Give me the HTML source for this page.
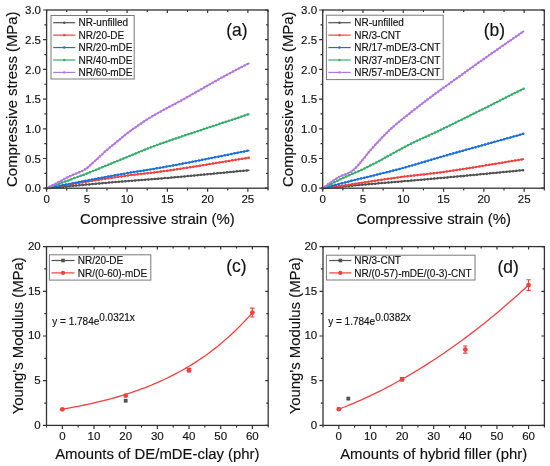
<!DOCTYPE html><html><head><meta charset="utf-8"><style>html,body{margin:0;padding:0;background:#fff;}svg{display:block;will-change:transform;}text{font-family:"Liberation Sans",sans-serif;fill:#111;stroke:#111;stroke-width:0.15px;}</style></head><body>
<svg width="550" height="466" viewBox="0 0 550 466">
<rect width="550" height="466" fill="#fff"/>
<path d="M46.6 188.2 L47.4 188.1 L48.2 188.1 L49.0 188.0 L49.8 187.9 L50.6 187.8 L51.4 187.8 L52.2 187.7 L53.0 187.6 L53.8 187.6 L54.7 187.5 L55.5 187.4 L56.3 187.3 L57.1 187.3 L57.9 187.2 L58.7 187.1 L59.5 187.0 L60.3 187.0 L61.1 186.9 L61.9 186.8 L62.7 186.8 L63.5 186.7 L64.3 186.6 L65.1 186.5 L65.9 186.5 L66.7 186.4 L67.5 186.3 L68.3 186.2 L69.1 186.2 L69.9 186.1 L70.8 186.0 L71.6 186.0 L72.4 185.9 L73.2 185.8 L74.0 185.7 L74.8 185.7 L75.6 185.6 L76.4 185.5 L77.2 185.4 L78.0 185.4 L78.8 185.3 L79.6 185.2 L80.4 185.2 L81.2 185.1 L82.0 185.0 L82.8 184.9 L83.6 184.9 L84.4 184.8 L85.2 184.7 L86.0 184.6 L86.9 184.6 L87.7 184.5 L88.5 184.4 L89.3 184.4 L90.1 184.3 L90.9 184.2 L91.7 184.1 L92.5 184.1 L93.3 184.0 L94.1 183.9 L94.9 183.9 L95.7 183.8 L96.5 183.7 L97.3 183.6 L98.1 183.6 L98.9 183.5 L99.7 183.4 L100.5 183.4 L101.3 183.3 L102.2 183.2 L103.0 183.1 L103.8 183.1 L104.6 183.0 L105.4 182.9 L106.2 182.9 L107.0 182.8 L107.8 182.7 L108.6 182.6 L109.4 182.6 L110.2 182.5 L111.0 182.4 L111.8 182.4 L112.6 182.3 L113.4 182.2 L114.2 182.2 L115.0 182.1 L115.8 182.0 L116.6 182.0 L117.4 181.9 L118.3 181.8 L119.1 181.8 L119.9 181.7 L120.7 181.6 L121.5 181.6 L122.3 181.5 L123.1 181.4 L123.9 181.4 L124.7 181.3 L125.5 181.2 L126.3 181.2 L127.1 181.1 L127.9 181.0 L128.7 181.0 L129.5 180.9 L130.3 180.8 L131.1 180.8 L131.9 180.7 L132.7 180.7 L133.5 180.6 L134.4 180.5 L135.2 180.5 L136.0 180.4 L136.8 180.3 L137.6 180.3 L138.4 180.2 L139.2 180.2 L140.0 180.1 L140.8 180.0 L141.6 180.0 L142.4 179.9 L143.2 179.9 L144.0 179.8 L144.8 179.7 L145.6 179.7 L146.4 179.6 L147.2 179.6 L148.0 179.5 L148.8 179.4 L149.7 179.4 L150.5 179.3 L151.3 179.3 L152.1 179.2 L152.9 179.1 L153.7 179.1 L154.5 179.0 L155.3 178.9 L156.1 178.9 L156.9 178.8 L157.7 178.8 L158.5 178.7 L159.3 178.6 L160.1 178.6 L160.9 178.5 L161.7 178.4 L162.5 178.4 L163.3 178.3 L164.1 178.2 L164.9 178.1 L165.8 178.1 L166.6 178.0 L167.4 177.9 L168.2 177.9 L169.0 177.8 L169.8 177.7 L170.6 177.7 L171.4 177.6 L172.2 177.5 L173.0 177.4 L173.8 177.4 L174.6 177.3 L175.4 177.2 L176.2 177.2 L177.0 177.1 L177.8 177.0 L178.6 176.9 L179.4 176.9 L180.2 176.8 L181.1 176.7 L181.9 176.7 L182.7 176.6 L183.5 176.5 L184.3 176.4 L185.1 176.4 L185.9 176.3 L186.7 176.2 L187.5 176.1 L188.3 176.1 L189.1 176.0 L189.9 175.9 L190.7 175.8 L191.5 175.8 L192.3 175.7 L193.1 175.6 L193.9 175.5 L194.7 175.5 L195.5 175.4 L196.3 175.3 L197.2 175.2 L198.0 175.1 L198.8 175.1 L199.6 175.0 L200.4 174.9 L201.2 174.8 L202.0 174.8 L202.8 174.7 L203.6 174.6 L204.4 174.5 L205.2 174.5 L206.0 174.4 L206.8 174.3 L207.6 174.2 L208.4 174.1 L209.2 174.1 L210.0 174.0 L210.8 173.9 L211.6 173.8 L212.4 173.8 L213.3 173.7 L214.1 173.6 L214.9 173.5 L215.7 173.4 L216.5 173.4 L217.3 173.3 L218.1 173.2 L218.9 173.1 L219.7 173.1 L220.5 173.0 L221.3 172.9 L222.1 172.8 L222.9 172.7 L223.7 172.7 L224.5 172.6 L225.3 172.5 L226.1 172.4 L226.9 172.4 L227.7 172.3 L228.6 172.2 L229.4 172.1 L230.2 172.0 L231.0 172.0 L231.8 171.9 L232.6 171.8 L233.4 171.7 L234.2 171.7 L235.0 171.6 L235.8 171.5 L236.6 171.4 L237.4 171.3 L238.2 171.3 L239.0 171.2 L239.8 171.1 L240.6 171.0 L241.4 171.0 L242.2 170.9 L243.0 170.8 L243.8 170.7 L244.7 170.7 L245.5 170.6 L246.3 170.5 L247.1 170.4 L247.9 170.4 L248.7 170.3 L249.5 170.2" fill="none" stroke="#515151" stroke-width="1.5" stroke-linejoin="round"/>
<path d="M46.6 188.2 L47.4 188.1 L48.2 188.1 L49.0 188.0 L49.8 187.9 L50.6 187.8 L51.4 187.8 L52.2 187.7 L53.0 187.6 L53.8 187.6 L54.7 187.5 L55.5 187.4 L56.3 187.3 L57.1 187.3 L57.9 187.2 L58.7 187.1 L59.5 187.0 L60.3 187.0 L61.1 186.9 L61.9 186.8 L62.7 186.8 L63.5 186.7 L64.3 186.6 L65.1 186.5 L65.9 186.5 L66.7 186.4 L67.5 186.3 L68.3 186.2 L69.1 186.2 L69.9 186.1 L70.8 186.0 L71.6 186.0 L72.4 185.9 L73.2 185.8 L74.0 185.7 L74.8 185.7 L75.6 185.6 L76.4 185.5 L77.2 185.4 L78.0 185.4 L78.8 185.3 L79.6 185.2 L80.4 185.2 L81.2 185.1 L82.0 185.0 L82.8 184.9 L83.6 184.9 L84.4 184.8 L85.2 184.7 L86.0 184.6 L86.9 184.6 L87.7 184.5 L88.5 184.4 L89.3 184.4 L90.1 184.3 L90.9 184.2 L91.7 184.1 L92.5 184.1 L93.3 184.0 L94.1 183.9 L94.9 183.9 L95.7 183.8 L96.5 183.7 L97.3 183.6 L98.1 183.6 L98.9 183.5 L99.7 183.4 L100.5 183.4 L101.3 183.3 L102.2 183.2 L103.0 183.1 L103.8 183.1 L104.6 183.0 L105.4 182.9 L106.2 182.9 L107.0 182.8 L107.8 182.7 L108.6 182.6 L109.4 182.6 L110.2 182.5 L111.0 182.4 L111.8 182.4 L112.6 182.3 L113.4 182.2 L114.2 182.2 L115.0 182.1 L115.8 182.0 L116.6 182.0 L117.4 181.9 L118.3 181.8 L119.1 181.8 L119.9 181.7 L120.7 181.6 L121.5 181.6 L122.3 181.5 L123.1 181.4 L123.9 181.4 L124.7 181.3 L125.5 181.2 L126.3 181.2 L127.1 181.1 L127.9 181.0 L128.7 181.0 L129.5 180.9 L130.3 180.8 L131.1 180.8 L131.9 180.7 L132.7 180.7 L133.5 180.6 L134.4 180.5 L135.2 180.5 L136.0 180.4 L136.8 180.3 L137.6 180.3 L138.4 180.2 L139.2 180.2 L140.0 180.1 L140.8 180.0 L141.6 180.0 L142.4 179.9 L143.2 179.9 L144.0 179.8 L144.8 179.7 L145.6 179.7 L146.4 179.6 L147.2 179.6 L148.0 179.5 L148.8 179.4 L149.7 179.4 L150.5 179.3 L151.3 179.3 L152.1 179.2 L152.9 179.1 L153.7 179.1 L154.5 179.0 L155.3 178.9 L156.1 178.9 L156.9 178.8 L157.7 178.8 L158.5 178.7 L159.3 178.6 L160.1 178.6 L160.9 178.5 L161.7 178.4 L162.5 178.4 L163.3 178.3 L164.1 178.2 L164.9 178.1 L165.8 178.1 L166.6 178.0 L167.4 177.9 L168.2 177.9 L169.0 177.8 L169.8 177.7 L170.6 177.7 L171.4 177.6 L172.2 177.5 L173.0 177.4 L173.8 177.4 L174.6 177.3 L175.4 177.2 L176.2 177.2 L177.0 177.1 L177.8 177.0 L178.6 176.9 L179.4 176.9 L180.2 176.8 L181.1 176.7 L181.9 176.7 L182.7 176.6 L183.5 176.5 L184.3 176.4 L185.1 176.4 L185.9 176.3 L186.7 176.2 L187.5 176.1 L188.3 176.1 L189.1 176.0 L189.9 175.9 L190.7 175.8 L191.5 175.8 L192.3 175.7 L193.1 175.6 L193.9 175.5 L194.7 175.5 L195.5 175.4 L196.3 175.3 L197.2 175.2 L198.0 175.1 L198.8 175.1 L199.6 175.0 L200.4 174.9 L201.2 174.8 L202.0 174.8 L202.8 174.7 L203.6 174.6 L204.4 174.5 L205.2 174.5 L206.0 174.4 L206.8 174.3 L207.6 174.2 L208.4 174.1 L209.2 174.1 L210.0 174.0 L210.8 173.9 L211.6 173.8 L212.4 173.8 L213.3 173.7 L214.1 173.6 L214.9 173.5 L215.7 173.4 L216.5 173.4 L217.3 173.3 L218.1 173.2 L218.9 173.1 L219.7 173.1 L220.5 173.0 L221.3 172.9 L222.1 172.8 L222.9 172.7 L223.7 172.7 L224.5 172.6 L225.3 172.5 L226.1 172.4 L226.9 172.4 L227.7 172.3 L228.6 172.2 L229.4 172.1 L230.2 172.0 L231.0 172.0 L231.8 171.9 L232.6 171.8 L233.4 171.7 L234.2 171.7 L235.0 171.6 L235.8 171.5 L236.6 171.4 L237.4 171.3 L238.2 171.3 L239.0 171.2 L239.8 171.1 L240.6 171.0 L241.4 171.0 L242.2 170.9 L243.0 170.8 L243.8 170.7 L244.7 170.7 L245.5 170.6 L246.3 170.5 L247.1 170.4 L247.9 170.4 L248.7 170.3 L249.5 170.2" fill="none" stroke="#515151" stroke-width="2.5" stroke-linecap="round" stroke-dasharray="0 3.3"/>
<path d="M46.6 188.2 L47.4 188.1 L48.2 187.9 L49.0 187.8 L49.8 187.7 L50.6 187.6 L51.4 187.4 L52.2 187.3 L53.0 187.2 L53.8 187.1 L54.7 186.9 L55.5 186.8 L56.3 186.7 L57.1 186.5 L57.9 186.4 L58.7 186.3 L59.5 186.1 L60.3 186.0 L61.1 185.9 L61.9 185.8 L62.7 185.6 L63.5 185.5 L64.3 185.4 L65.1 185.2 L65.9 185.1 L66.7 185.0 L67.5 184.8 L68.3 184.7 L69.1 184.6 L69.9 184.4 L70.8 184.3 L71.6 184.2 L72.4 184.0 L73.2 183.9 L74.0 183.8 L74.8 183.6 L75.6 183.5 L76.4 183.4 L77.2 183.2 L78.0 183.1 L78.8 183.0 L79.6 182.9 L80.4 182.7 L81.2 182.6 L82.0 182.5 L82.8 182.3 L83.6 182.2 L84.4 182.1 L85.2 181.9 L86.0 181.8 L86.9 181.7 L87.7 181.5 L88.5 181.4 L89.3 181.3 L90.1 181.2 L90.9 181.0 L91.7 180.9 L92.5 180.8 L93.3 180.6 L94.1 180.5 L94.9 180.4 L95.7 180.3 L96.5 180.1 L97.3 180.0 L98.1 179.9 L98.9 179.7 L99.7 179.6 L100.5 179.5 L101.3 179.4 L102.2 179.2 L103.0 179.1 L103.8 179.0 L104.6 178.9 L105.4 178.7 L106.2 178.6 L107.0 178.5 L107.8 178.4 L108.6 178.3 L109.4 178.1 L110.2 178.0 L111.0 177.9 L111.8 177.8 L112.6 177.7 L113.4 177.5 L114.2 177.4 L115.0 177.3 L115.8 177.2 L116.6 177.1 L117.4 177.0 L118.3 176.8 L119.1 176.7 L119.9 176.6 L120.7 176.5 L121.5 176.4 L122.3 176.3 L123.1 176.2 L123.9 176.1 L124.7 175.9 L125.5 175.8 L126.3 175.7 L127.1 175.6 L127.9 175.5 L128.7 175.4 L129.5 175.3 L130.3 175.2 L131.1 175.1 L131.9 175.0 L132.7 174.9 L133.5 174.8 L134.4 174.7 L135.2 174.6 L136.0 174.5 L136.8 174.4 L137.6 174.3 L138.4 174.3 L139.2 174.2 L140.0 174.1 L140.8 174.0 L141.6 173.9 L142.4 173.8 L143.2 173.7 L144.0 173.6 L144.8 173.5 L145.6 173.4 L146.4 173.3 L147.2 173.2 L148.0 173.1 L148.8 173.1 L149.7 173.0 L150.5 172.9 L151.3 172.8 L152.1 172.7 L152.9 172.6 L153.7 172.5 L154.5 172.4 L155.3 172.3 L156.1 172.2 L156.9 172.1 L157.7 172.0 L158.5 171.9 L159.3 171.8 L160.1 171.7 L160.9 171.5 L161.7 171.4 L162.5 171.3 L163.3 171.2 L164.1 171.1 L164.9 171.0 L165.8 170.9 L166.6 170.8 L167.4 170.7 L168.2 170.5 L169.0 170.4 L169.8 170.3 L170.6 170.2 L171.4 170.1 L172.2 170.0 L173.0 169.8 L173.8 169.7 L174.6 169.6 L175.4 169.5 L176.2 169.4 L177.0 169.3 L177.8 169.1 L178.6 169.0 L179.4 168.9 L180.2 168.8 L181.1 168.6 L181.9 168.5 L182.7 168.4 L183.5 168.3 L184.3 168.2 L185.1 168.0 L185.9 167.9 L186.7 167.8 L187.5 167.7 L188.3 167.5 L189.1 167.4 L189.9 167.3 L190.7 167.2 L191.5 167.0 L192.3 166.9 L193.1 166.8 L193.9 166.6 L194.7 166.5 L195.5 166.4 L196.3 166.3 L197.2 166.1 L198.0 166.0 L198.8 165.9 L199.6 165.7 L200.4 165.6 L201.2 165.5 L202.0 165.3 L202.8 165.2 L203.6 165.1 L204.4 165.0 L205.2 164.8 L206.0 164.7 L206.8 164.6 L207.6 164.4 L208.4 164.3 L209.2 164.2 L210.0 164.0 L210.8 163.9 L211.6 163.8 L212.4 163.6 L213.3 163.5 L214.1 163.4 L214.9 163.2 L215.7 163.1 L216.5 163.0 L217.3 162.8 L218.1 162.7 L218.9 162.6 L219.7 162.4 L220.5 162.3 L221.3 162.2 L222.1 162.0 L222.9 161.9 L223.7 161.8 L224.5 161.6 L225.3 161.5 L226.1 161.4 L226.9 161.2 L227.7 161.1 L228.6 161.0 L229.4 160.9 L230.2 160.7 L231.0 160.6 L231.8 160.5 L232.6 160.3 L233.4 160.2 L234.2 160.1 L235.0 159.9 L235.8 159.8 L236.6 159.7 L237.4 159.5 L238.2 159.4 L239.0 159.3 L239.8 159.1 L240.6 159.0 L241.4 158.9 L242.2 158.8 L243.0 158.6 L243.8 158.5 L244.7 158.4 L245.5 158.2 L246.3 158.1 L247.1 158.0 L247.9 157.9 L248.7 157.7 L249.5 157.6" fill="none" stroke="#F14040" stroke-width="1.5" stroke-linejoin="round"/>
<path d="M46.6 188.2 L47.4 188.1 L48.2 187.9 L49.0 187.8 L49.8 187.7 L50.6 187.6 L51.4 187.4 L52.2 187.3 L53.0 187.2 L53.8 187.1 L54.7 186.9 L55.5 186.8 L56.3 186.7 L57.1 186.5 L57.9 186.4 L58.7 186.3 L59.5 186.1 L60.3 186.0 L61.1 185.9 L61.9 185.8 L62.7 185.6 L63.5 185.5 L64.3 185.4 L65.1 185.2 L65.9 185.1 L66.7 185.0 L67.5 184.8 L68.3 184.7 L69.1 184.6 L69.9 184.4 L70.8 184.3 L71.6 184.2 L72.4 184.0 L73.2 183.9 L74.0 183.8 L74.8 183.6 L75.6 183.5 L76.4 183.4 L77.2 183.2 L78.0 183.1 L78.8 183.0 L79.6 182.9 L80.4 182.7 L81.2 182.6 L82.0 182.5 L82.8 182.3 L83.6 182.2 L84.4 182.1 L85.2 181.9 L86.0 181.8 L86.9 181.7 L87.7 181.5 L88.5 181.4 L89.3 181.3 L90.1 181.2 L90.9 181.0 L91.7 180.9 L92.5 180.8 L93.3 180.6 L94.1 180.5 L94.9 180.4 L95.7 180.3 L96.5 180.1 L97.3 180.0 L98.1 179.9 L98.9 179.7 L99.7 179.6 L100.5 179.5 L101.3 179.4 L102.2 179.2 L103.0 179.1 L103.8 179.0 L104.6 178.9 L105.4 178.7 L106.2 178.6 L107.0 178.5 L107.8 178.4 L108.6 178.3 L109.4 178.1 L110.2 178.0 L111.0 177.9 L111.8 177.8 L112.6 177.7 L113.4 177.5 L114.2 177.4 L115.0 177.3 L115.8 177.2 L116.6 177.1 L117.4 177.0 L118.3 176.8 L119.1 176.7 L119.9 176.6 L120.7 176.5 L121.5 176.4 L122.3 176.3 L123.1 176.2 L123.9 176.1 L124.7 175.9 L125.5 175.8 L126.3 175.7 L127.1 175.6 L127.9 175.5 L128.7 175.4 L129.5 175.3 L130.3 175.2 L131.1 175.1 L131.9 175.0 L132.7 174.9 L133.5 174.8 L134.4 174.7 L135.2 174.6 L136.0 174.5 L136.8 174.4 L137.6 174.3 L138.4 174.3 L139.2 174.2 L140.0 174.1 L140.8 174.0 L141.6 173.9 L142.4 173.8 L143.2 173.7 L144.0 173.6 L144.8 173.5 L145.6 173.4 L146.4 173.3 L147.2 173.2 L148.0 173.1 L148.8 173.1 L149.7 173.0 L150.5 172.9 L151.3 172.8 L152.1 172.7 L152.9 172.6 L153.7 172.5 L154.5 172.4 L155.3 172.3 L156.1 172.2 L156.9 172.1 L157.7 172.0 L158.5 171.9 L159.3 171.8 L160.1 171.7 L160.9 171.5 L161.7 171.4 L162.5 171.3 L163.3 171.2 L164.1 171.1 L164.9 171.0 L165.8 170.9 L166.6 170.8 L167.4 170.7 L168.2 170.5 L169.0 170.4 L169.8 170.3 L170.6 170.2 L171.4 170.1 L172.2 170.0 L173.0 169.8 L173.8 169.7 L174.6 169.6 L175.4 169.5 L176.2 169.4 L177.0 169.3 L177.8 169.1 L178.6 169.0 L179.4 168.9 L180.2 168.8 L181.1 168.6 L181.9 168.5 L182.7 168.4 L183.5 168.3 L184.3 168.2 L185.1 168.0 L185.9 167.9 L186.7 167.8 L187.5 167.7 L188.3 167.5 L189.1 167.4 L189.9 167.3 L190.7 167.2 L191.5 167.0 L192.3 166.9 L193.1 166.8 L193.9 166.6 L194.7 166.5 L195.5 166.4 L196.3 166.3 L197.2 166.1 L198.0 166.0 L198.8 165.9 L199.6 165.7 L200.4 165.6 L201.2 165.5 L202.0 165.3 L202.8 165.2 L203.6 165.1 L204.4 165.0 L205.2 164.8 L206.0 164.7 L206.8 164.6 L207.6 164.4 L208.4 164.3 L209.2 164.2 L210.0 164.0 L210.8 163.9 L211.6 163.8 L212.4 163.6 L213.3 163.5 L214.1 163.4 L214.9 163.2 L215.7 163.1 L216.5 163.0 L217.3 162.8 L218.1 162.7 L218.9 162.6 L219.7 162.4 L220.5 162.3 L221.3 162.2 L222.1 162.0 L222.9 161.9 L223.7 161.8 L224.5 161.6 L225.3 161.5 L226.1 161.4 L226.9 161.2 L227.7 161.1 L228.6 161.0 L229.4 160.9 L230.2 160.7 L231.0 160.6 L231.8 160.5 L232.6 160.3 L233.4 160.2 L234.2 160.1 L235.0 159.9 L235.8 159.8 L236.6 159.7 L237.4 159.5 L238.2 159.4 L239.0 159.3 L239.8 159.1 L240.6 159.0 L241.4 158.9 L242.2 158.8 L243.0 158.6 L243.8 158.5 L244.7 158.4 L245.5 158.2 L246.3 158.1 L247.1 158.0 L247.9 157.9 L248.7 157.7 L249.5 157.6" fill="none" stroke="#F14040" stroke-width="2.5" stroke-linecap="round" stroke-dasharray="0 3.3"/>
<path d="M46.6 188.2 L47.4 188.0 L48.2 187.9 L49.0 187.7 L49.8 187.6 L50.6 187.4 L51.4 187.3 L52.2 187.1 L53.0 187.0 L53.8 186.8 L54.7 186.7 L55.5 186.5 L56.3 186.4 L57.1 186.2 L57.9 186.1 L58.7 185.9 L59.5 185.8 L60.3 185.6 L61.1 185.5 L61.9 185.3 L62.7 185.1 L63.5 185.0 L64.3 184.8 L65.1 184.7 L65.9 184.5 L66.7 184.4 L67.5 184.2 L68.3 184.1 L69.1 183.9 L69.9 183.8 L70.8 183.6 L71.6 183.4 L72.4 183.3 L73.2 183.1 L74.0 183.0 L74.8 182.8 L75.6 182.7 L76.4 182.5 L77.2 182.4 L78.0 182.2 L78.8 182.1 L79.6 181.9 L80.4 181.7 L81.2 181.6 L82.0 181.4 L82.8 181.3 L83.6 181.1 L84.4 181.0 L85.2 180.8 L86.0 180.7 L86.9 180.5 L87.7 180.4 L88.5 180.2 L89.3 180.1 L90.1 179.9 L90.9 179.7 L91.7 179.6 L92.5 179.4 L93.3 179.3 L94.1 179.1 L94.9 179.0 L95.7 178.8 L96.5 178.7 L97.3 178.5 L98.1 178.4 L98.9 178.2 L99.7 178.1 L100.5 177.9 L101.3 177.8 L102.2 177.6 L103.0 177.5 L103.8 177.3 L104.6 177.2 L105.4 177.0 L106.2 176.9 L107.0 176.7 L107.8 176.6 L108.6 176.4 L109.4 176.3 L110.2 176.1 L111.0 176.0 L111.8 175.8 L112.6 175.7 L113.4 175.6 L114.2 175.4 L115.0 175.3 L115.8 175.1 L116.6 175.0 L117.4 174.8 L118.3 174.7 L119.1 174.5 L119.9 174.4 L120.7 174.3 L121.5 174.1 L122.3 174.0 L123.1 173.8 L123.9 173.7 L124.7 173.6 L125.5 173.4 L126.3 173.3 L127.1 173.1 L127.9 173.0 L128.7 172.9 L129.5 172.7 L130.3 172.6 L131.1 172.5 L131.9 172.3 L132.7 172.2 L133.5 172.1 L134.4 171.9 L135.2 171.8 L136.0 171.7 L136.8 171.6 L137.6 171.4 L138.4 171.3 L139.2 171.2 L140.0 171.1 L140.8 170.9 L141.6 170.8 L142.4 170.7 L143.2 170.5 L144.0 170.4 L144.8 170.3 L145.6 170.2 L146.4 170.0 L147.2 169.9 L148.0 169.8 L148.8 169.7 L149.7 169.5 L150.5 169.4 L151.3 169.3 L152.1 169.1 L152.9 169.0 L153.7 168.9 L154.5 168.7 L155.3 168.6 L156.1 168.5 L156.9 168.3 L157.7 168.2 L158.5 168.1 L159.3 167.9 L160.1 167.8 L160.9 167.6 L161.7 167.5 L162.5 167.4 L163.3 167.2 L164.1 167.1 L164.9 166.9 L165.8 166.8 L166.6 166.6 L167.4 166.5 L168.2 166.3 L169.0 166.2 L169.8 166.1 L170.6 165.9 L171.4 165.8 L172.2 165.6 L173.0 165.5 L173.8 165.3 L174.6 165.2 L175.4 165.0 L176.2 164.9 L177.0 164.7 L177.8 164.6 L178.6 164.4 L179.4 164.3 L180.2 164.1 L181.1 164.0 L181.9 163.8 L182.7 163.6 L183.5 163.5 L184.3 163.3 L185.1 163.2 L185.9 163.0 L186.7 162.9 L187.5 162.7 L188.3 162.6 L189.1 162.4 L189.9 162.3 L190.7 162.1 L191.5 161.9 L192.3 161.8 L193.1 161.6 L193.9 161.5 L194.7 161.3 L195.5 161.2 L196.3 161.0 L197.2 160.8 L198.0 160.7 L198.8 160.5 L199.6 160.4 L200.4 160.2 L201.2 160.0 L202.0 159.9 L202.8 159.7 L203.6 159.6 L204.4 159.4 L205.2 159.2 L206.0 159.1 L206.8 158.9 L207.6 158.8 L208.4 158.6 L209.2 158.4 L210.0 158.3 L210.8 158.1 L211.6 158.0 L212.4 157.8 L213.3 157.6 L214.1 157.5 L214.9 157.3 L215.7 157.1 L216.5 157.0 L217.3 156.8 L218.1 156.7 L218.9 156.5 L219.7 156.3 L220.5 156.2 L221.3 156.0 L222.1 155.9 L222.9 155.7 L223.7 155.5 L224.5 155.4 L225.3 155.2 L226.1 155.0 L226.9 154.9 L227.7 154.7 L228.6 154.6 L229.4 154.4 L230.2 154.2 L231.0 154.1 L231.8 153.9 L232.6 153.8 L233.4 153.6 L234.2 153.4 L235.0 153.3 L235.8 153.1 L236.6 153.0 L237.4 152.8 L238.2 152.6 L239.0 152.5 L239.8 152.3 L240.6 152.2 L241.4 152.0 L242.2 151.8 L243.0 151.7 L243.8 151.5 L244.7 151.4 L245.5 151.2 L246.3 151.0 L247.1 150.9 L247.9 150.7 L248.7 150.6 L249.5 150.4" fill="none" stroke="#1A6FDF" stroke-width="1.5" stroke-linejoin="round"/>
<path d="M46.6 188.2 L47.4 188.0 L48.2 187.9 L49.0 187.7 L49.8 187.6 L50.6 187.4 L51.4 187.3 L52.2 187.1 L53.0 187.0 L53.8 186.8 L54.7 186.7 L55.5 186.5 L56.3 186.4 L57.1 186.2 L57.9 186.1 L58.7 185.9 L59.5 185.8 L60.3 185.6 L61.1 185.5 L61.9 185.3 L62.7 185.1 L63.5 185.0 L64.3 184.8 L65.1 184.7 L65.9 184.5 L66.7 184.4 L67.5 184.2 L68.3 184.1 L69.1 183.9 L69.9 183.8 L70.8 183.6 L71.6 183.4 L72.4 183.3 L73.2 183.1 L74.0 183.0 L74.8 182.8 L75.6 182.7 L76.4 182.5 L77.2 182.4 L78.0 182.2 L78.8 182.1 L79.6 181.9 L80.4 181.7 L81.2 181.6 L82.0 181.4 L82.8 181.3 L83.6 181.1 L84.4 181.0 L85.2 180.8 L86.0 180.7 L86.9 180.5 L87.7 180.4 L88.5 180.2 L89.3 180.1 L90.1 179.9 L90.9 179.7 L91.7 179.6 L92.5 179.4 L93.3 179.3 L94.1 179.1 L94.9 179.0 L95.7 178.8 L96.5 178.7 L97.3 178.5 L98.1 178.4 L98.9 178.2 L99.7 178.1 L100.5 177.9 L101.3 177.8 L102.2 177.6 L103.0 177.5 L103.8 177.3 L104.6 177.2 L105.4 177.0 L106.2 176.9 L107.0 176.7 L107.8 176.6 L108.6 176.4 L109.4 176.3 L110.2 176.1 L111.0 176.0 L111.8 175.8 L112.6 175.7 L113.4 175.6 L114.2 175.4 L115.0 175.3 L115.8 175.1 L116.6 175.0 L117.4 174.8 L118.3 174.7 L119.1 174.5 L119.9 174.4 L120.7 174.3 L121.5 174.1 L122.3 174.0 L123.1 173.8 L123.9 173.7 L124.7 173.6 L125.5 173.4 L126.3 173.3 L127.1 173.1 L127.9 173.0 L128.7 172.9 L129.5 172.7 L130.3 172.6 L131.1 172.5 L131.9 172.3 L132.7 172.2 L133.5 172.1 L134.4 171.9 L135.2 171.8 L136.0 171.7 L136.8 171.6 L137.6 171.4 L138.4 171.3 L139.2 171.2 L140.0 171.1 L140.8 170.9 L141.6 170.8 L142.4 170.7 L143.2 170.5 L144.0 170.4 L144.8 170.3 L145.6 170.2 L146.4 170.0 L147.2 169.9 L148.0 169.8 L148.8 169.7 L149.7 169.5 L150.5 169.4 L151.3 169.3 L152.1 169.1 L152.9 169.0 L153.7 168.9 L154.5 168.7 L155.3 168.6 L156.1 168.5 L156.9 168.3 L157.7 168.2 L158.5 168.1 L159.3 167.9 L160.1 167.8 L160.9 167.6 L161.7 167.5 L162.5 167.4 L163.3 167.2 L164.1 167.1 L164.9 166.9 L165.8 166.8 L166.6 166.6 L167.4 166.5 L168.2 166.3 L169.0 166.2 L169.8 166.1 L170.6 165.9 L171.4 165.8 L172.2 165.6 L173.0 165.5 L173.8 165.3 L174.6 165.2 L175.4 165.0 L176.2 164.9 L177.0 164.7 L177.8 164.6 L178.6 164.4 L179.4 164.3 L180.2 164.1 L181.1 164.0 L181.9 163.8 L182.7 163.6 L183.5 163.5 L184.3 163.3 L185.1 163.2 L185.9 163.0 L186.7 162.9 L187.5 162.7 L188.3 162.6 L189.1 162.4 L189.9 162.3 L190.7 162.1 L191.5 161.9 L192.3 161.8 L193.1 161.6 L193.9 161.5 L194.7 161.3 L195.5 161.2 L196.3 161.0 L197.2 160.8 L198.0 160.7 L198.8 160.5 L199.6 160.4 L200.4 160.2 L201.2 160.0 L202.0 159.9 L202.8 159.7 L203.6 159.6 L204.4 159.4 L205.2 159.2 L206.0 159.1 L206.8 158.9 L207.6 158.8 L208.4 158.6 L209.2 158.4 L210.0 158.3 L210.8 158.1 L211.6 158.0 L212.4 157.8 L213.3 157.6 L214.1 157.5 L214.9 157.3 L215.7 157.1 L216.5 157.0 L217.3 156.8 L218.1 156.7 L218.9 156.5 L219.7 156.3 L220.5 156.2 L221.3 156.0 L222.1 155.9 L222.9 155.7 L223.7 155.5 L224.5 155.4 L225.3 155.2 L226.1 155.0 L226.9 154.9 L227.7 154.7 L228.6 154.6 L229.4 154.4 L230.2 154.2 L231.0 154.1 L231.8 153.9 L232.6 153.8 L233.4 153.6 L234.2 153.4 L235.0 153.3 L235.8 153.1 L236.6 153.0 L237.4 152.8 L238.2 152.6 L239.0 152.5 L239.8 152.3 L240.6 152.2 L241.4 152.0 L242.2 151.8 L243.0 151.7 L243.8 151.5 L244.7 151.4 L245.5 151.2 L246.3 151.0 L247.1 150.9 L247.9 150.7 L248.7 150.6 L249.5 150.4" fill="none" stroke="#1A6FDF" stroke-width="2.5" stroke-linecap="round" stroke-dasharray="0 3.3"/>
<path d="M46.6 188.2 L47.4 187.9 L48.2 187.6 L49.0 187.3 L49.8 187.0 L50.6 186.7 L51.4 186.5 L52.2 186.2 L53.0 185.9 L53.8 185.6 L54.7 185.3 L55.5 185.0 L56.3 184.7 L57.1 184.4 L57.9 184.1 L58.7 183.9 L59.5 183.6 L60.3 183.3 L61.1 183.0 L61.9 182.7 L62.7 182.4 L63.5 182.1 L64.3 181.8 L65.1 181.6 L65.9 181.3 L66.7 181.0 L67.5 180.7 L68.3 180.4 L69.1 180.1 L69.9 179.8 L70.8 179.5 L71.6 179.2 L72.4 178.9 L73.2 178.6 L74.0 178.3 L74.8 178.0 L75.6 177.7 L76.4 177.4 L77.2 177.1 L78.0 176.8 L78.8 176.5 L79.6 176.2 L80.4 175.9 L81.2 175.6 L82.0 175.3 L82.8 175.0 L83.6 174.7 L84.4 174.4 L85.2 174.1 L86.0 173.8 L86.9 173.5 L87.7 173.1 L88.5 172.8 L89.3 172.5 L90.1 172.2 L90.9 171.9 L91.7 171.6 L92.5 171.2 L93.3 170.9 L94.1 170.6 L94.9 170.3 L95.7 169.9 L96.5 169.6 L97.3 169.3 L98.1 169.0 L98.9 168.6 L99.7 168.3 L100.5 168.0 L101.3 167.6 L102.2 167.3 L103.0 167.0 L103.8 166.6 L104.6 166.3 L105.4 166.0 L106.2 165.6 L107.0 165.3 L107.8 165.0 L108.6 164.6 L109.4 164.3 L110.2 164.0 L111.0 163.6 L111.8 163.3 L112.6 163.0 L113.4 162.6 L114.2 162.3 L115.0 162.0 L115.8 161.6 L116.6 161.3 L117.4 161.0 L118.3 160.6 L119.1 160.3 L119.9 160.0 L120.7 159.6 L121.5 159.3 L122.3 159.0 L123.1 158.6 L123.9 158.3 L124.7 158.0 L125.5 157.7 L126.3 157.3 L127.1 157.0 L127.9 156.7 L128.7 156.3 L129.5 156.0 L130.3 155.7 L131.1 155.3 L131.9 155.0 L132.7 154.7 L133.5 154.3 L134.4 154.0 L135.2 153.6 L136.0 153.3 L136.8 153.0 L137.6 152.6 L138.4 152.3 L139.2 152.0 L140.0 151.6 L140.8 151.3 L141.6 151.0 L142.4 150.6 L143.2 150.3 L144.0 150.0 L144.8 149.7 L145.6 149.3 L146.4 149.0 L147.2 148.7 L148.0 148.4 L148.8 148.1 L149.7 147.8 L150.5 147.5 L151.3 147.2 L152.1 146.9 L152.9 146.6 L153.7 146.3 L154.5 146.0 L155.3 145.7 L156.1 145.4 L156.9 145.1 L157.7 144.8 L158.5 144.5 L159.3 144.2 L160.1 143.9 L160.9 143.6 L161.7 143.3 L162.5 143.1 L163.3 142.8 L164.1 142.5 L164.9 142.2 L165.8 141.9 L166.6 141.6 L167.4 141.4 L168.2 141.1 L169.0 140.8 L169.8 140.5 L170.6 140.2 L171.4 140.0 L172.2 139.7 L173.0 139.4 L173.8 139.1 L174.6 138.9 L175.4 138.6 L176.2 138.3 L177.0 138.0 L177.8 137.8 L178.6 137.5 L179.4 137.2 L180.2 136.9 L181.1 136.7 L181.9 136.4 L182.7 136.1 L183.5 135.9 L184.3 135.6 L185.1 135.3 L185.9 135.1 L186.7 134.8 L187.5 134.5 L188.3 134.3 L189.1 134.0 L189.9 133.7 L190.7 133.5 L191.5 133.2 L192.3 132.9 L193.1 132.7 L193.9 132.4 L194.7 132.1 L195.5 131.9 L196.3 131.6 L197.2 131.3 L198.0 131.1 L198.8 130.8 L199.6 130.5 L200.4 130.3 L201.2 130.0 L202.0 129.7 L202.8 129.5 L203.6 129.2 L204.4 128.9 L205.2 128.7 L206.0 128.4 L206.8 128.1 L207.6 127.9 L208.4 127.6 L209.2 127.3 L210.0 127.1 L210.8 126.8 L211.6 126.5 L212.4 126.3 L213.3 126.0 L214.1 125.7 L214.9 125.5 L215.7 125.2 L216.5 124.9 L217.3 124.6 L218.1 124.4 L218.9 124.1 L219.7 123.8 L220.5 123.6 L221.3 123.3 L222.1 123.0 L222.9 122.8 L223.7 122.5 L224.5 122.2 L225.3 122.0 L226.1 121.7 L226.9 121.4 L227.7 121.2 L228.6 120.9 L229.4 120.6 L230.2 120.4 L231.0 120.1 L231.8 119.8 L232.6 119.5 L233.4 119.3 L234.2 119.0 L235.0 118.8 L235.8 118.5 L236.6 118.2 L237.4 118.0 L238.2 117.7 L239.0 117.4 L239.8 117.2 L240.6 116.9 L241.4 116.6 L242.2 116.4 L243.0 116.1 L243.8 115.8 L244.7 115.6 L245.5 115.3 L246.3 115.0 L247.1 114.8 L247.9 114.5 L248.7 114.2 L249.5 113.9" fill="none" stroke="#37AD6B" stroke-width="1.5" stroke-linejoin="round"/>
<path d="M46.6 188.2 L47.4 187.9 L48.2 187.6 L49.0 187.3 L49.8 187.0 L50.6 186.7 L51.4 186.5 L52.2 186.2 L53.0 185.9 L53.8 185.6 L54.7 185.3 L55.5 185.0 L56.3 184.7 L57.1 184.4 L57.9 184.1 L58.7 183.9 L59.5 183.6 L60.3 183.3 L61.1 183.0 L61.9 182.7 L62.7 182.4 L63.5 182.1 L64.3 181.8 L65.1 181.6 L65.9 181.3 L66.7 181.0 L67.5 180.7 L68.3 180.4 L69.1 180.1 L69.9 179.8 L70.8 179.5 L71.6 179.2 L72.4 178.9 L73.2 178.6 L74.0 178.3 L74.8 178.0 L75.6 177.7 L76.4 177.4 L77.2 177.1 L78.0 176.8 L78.8 176.5 L79.6 176.2 L80.4 175.9 L81.2 175.6 L82.0 175.3 L82.8 175.0 L83.6 174.7 L84.4 174.4 L85.2 174.1 L86.0 173.8 L86.9 173.5 L87.7 173.1 L88.5 172.8 L89.3 172.5 L90.1 172.2 L90.9 171.9 L91.7 171.6 L92.5 171.2 L93.3 170.9 L94.1 170.6 L94.9 170.3 L95.7 169.9 L96.5 169.6 L97.3 169.3 L98.1 169.0 L98.9 168.6 L99.7 168.3 L100.5 168.0 L101.3 167.6 L102.2 167.3 L103.0 167.0 L103.8 166.6 L104.6 166.3 L105.4 166.0 L106.2 165.6 L107.0 165.3 L107.8 165.0 L108.6 164.6 L109.4 164.3 L110.2 164.0 L111.0 163.6 L111.8 163.3 L112.6 163.0 L113.4 162.6 L114.2 162.3 L115.0 162.0 L115.8 161.6 L116.6 161.3 L117.4 161.0 L118.3 160.6 L119.1 160.3 L119.9 160.0 L120.7 159.6 L121.5 159.3 L122.3 159.0 L123.1 158.6 L123.9 158.3 L124.7 158.0 L125.5 157.7 L126.3 157.3 L127.1 157.0 L127.9 156.7 L128.7 156.3 L129.5 156.0 L130.3 155.7 L131.1 155.3 L131.9 155.0 L132.7 154.7 L133.5 154.3 L134.4 154.0 L135.2 153.6 L136.0 153.3 L136.8 153.0 L137.6 152.6 L138.4 152.3 L139.2 152.0 L140.0 151.6 L140.8 151.3 L141.6 151.0 L142.4 150.6 L143.2 150.3 L144.0 150.0 L144.8 149.7 L145.6 149.3 L146.4 149.0 L147.2 148.7 L148.0 148.4 L148.8 148.1 L149.7 147.8 L150.5 147.5 L151.3 147.2 L152.1 146.9 L152.9 146.6 L153.7 146.3 L154.5 146.0 L155.3 145.7 L156.1 145.4 L156.9 145.1 L157.7 144.8 L158.5 144.5 L159.3 144.2 L160.1 143.9 L160.9 143.6 L161.7 143.3 L162.5 143.1 L163.3 142.8 L164.1 142.5 L164.9 142.2 L165.8 141.9 L166.6 141.6 L167.4 141.4 L168.2 141.1 L169.0 140.8 L169.8 140.5 L170.6 140.2 L171.4 140.0 L172.2 139.7 L173.0 139.4 L173.8 139.1 L174.6 138.9 L175.4 138.6 L176.2 138.3 L177.0 138.0 L177.8 137.8 L178.6 137.5 L179.4 137.2 L180.2 136.9 L181.1 136.7 L181.9 136.4 L182.7 136.1 L183.5 135.9 L184.3 135.6 L185.1 135.3 L185.9 135.1 L186.7 134.8 L187.5 134.5 L188.3 134.3 L189.1 134.0 L189.9 133.7 L190.7 133.5 L191.5 133.2 L192.3 132.9 L193.1 132.7 L193.9 132.4 L194.7 132.1 L195.5 131.9 L196.3 131.6 L197.2 131.3 L198.0 131.1 L198.8 130.8 L199.6 130.5 L200.4 130.3 L201.2 130.0 L202.0 129.7 L202.8 129.5 L203.6 129.2 L204.4 128.9 L205.2 128.7 L206.0 128.4 L206.8 128.1 L207.6 127.9 L208.4 127.6 L209.2 127.3 L210.0 127.1 L210.8 126.8 L211.6 126.5 L212.4 126.3 L213.3 126.0 L214.1 125.7 L214.9 125.5 L215.7 125.2 L216.5 124.9 L217.3 124.6 L218.1 124.4 L218.9 124.1 L219.7 123.8 L220.5 123.6 L221.3 123.3 L222.1 123.0 L222.9 122.8 L223.7 122.5 L224.5 122.2 L225.3 122.0 L226.1 121.7 L226.9 121.4 L227.7 121.2 L228.6 120.9 L229.4 120.6 L230.2 120.4 L231.0 120.1 L231.8 119.8 L232.6 119.5 L233.4 119.3 L234.2 119.0 L235.0 118.8 L235.8 118.5 L236.6 118.2 L237.4 118.0 L238.2 117.7 L239.0 117.4 L239.8 117.2 L240.6 116.9 L241.4 116.6 L242.2 116.4 L243.0 116.1 L243.8 115.8 L244.7 115.6 L245.5 115.3 L246.3 115.0 L247.1 114.8 L247.9 114.5 L248.7 114.2 L249.5 113.9" fill="none" stroke="#37AD6B" stroke-width="2.5" stroke-linecap="round" stroke-dasharray="0 3.3"/>
<path d="M46.6 188.2 L47.4 187.8 L48.2 187.4 L49.0 187.0 L49.8 186.6 L50.6 186.2 L51.4 185.8 L52.2 185.4 L53.0 185.0 L53.8 184.6 L54.7 184.2 L55.5 183.8 L56.3 183.4 L57.1 182.9 L57.9 182.5 L58.7 182.1 L59.5 181.6 L60.3 181.2 L61.1 180.8 L61.9 180.3 L62.7 179.9 L63.5 179.4 L64.3 179.0 L65.1 178.6 L65.9 178.2 L66.7 177.7 L67.5 177.4 L68.3 177.0 L69.1 176.6 L69.9 176.2 L70.8 175.9 L71.6 175.5 L72.4 175.1 L73.2 174.8 L74.0 174.4 L74.8 174.1 L75.6 173.8 L76.4 173.4 L77.2 173.1 L78.0 172.7 L78.8 172.4 L79.6 172.0 L80.4 171.7 L81.2 171.4 L82.0 171.0 L82.8 170.7 L83.6 170.2 L84.4 169.8 L85.2 169.2 L86.0 168.7 L86.9 168.1 L87.7 167.4 L88.5 166.8 L89.3 166.1 L90.1 165.4 L90.9 164.7 L91.7 163.9 L92.5 163.2 L93.3 162.5 L94.1 161.7 L94.9 161.0 L95.7 160.3 L96.5 159.6 L97.3 158.9 L98.1 158.1 L98.9 157.3 L99.7 156.6 L100.5 155.8 L101.3 155.0 L102.2 154.3 L103.0 153.5 L103.8 152.7 L104.6 152.0 L105.4 151.3 L106.2 150.6 L107.0 149.9 L107.8 149.2 L108.6 148.5 L109.4 147.9 L110.2 147.2 L111.0 146.5 L111.8 145.9 L112.6 145.2 L113.4 144.6 L114.2 143.9 L115.0 143.3 L115.8 142.6 L116.6 142.0 L117.4 141.3 L118.3 140.6 L119.1 139.9 L119.9 139.3 L120.7 138.6 L121.5 137.9 L122.3 137.2 L123.1 136.6 L123.9 135.9 L124.7 135.3 L125.5 134.6 L126.3 134.0 L127.1 133.4 L127.9 132.8 L128.7 132.2 L129.5 131.6 L130.3 131.0 L131.1 130.4 L131.9 129.8 L132.7 129.2 L133.5 128.7 L134.4 128.1 L135.2 127.5 L136.0 127.0 L136.8 126.4 L137.6 125.8 L138.4 125.3 L139.2 124.7 L140.0 124.2 L140.8 123.6 L141.6 123.1 L142.4 122.5 L143.2 122.0 L144.0 121.5 L144.8 120.9 L145.6 120.4 L146.4 119.9 L147.2 119.4 L148.0 118.8 L148.8 118.3 L149.7 117.8 L150.5 117.3 L151.3 116.9 L152.1 116.4 L152.9 115.9 L153.7 115.4 L154.5 115.0 L155.3 114.5 L156.1 114.0 L156.9 113.6 L157.7 113.1 L158.5 112.7 L159.3 112.2 L160.1 111.8 L160.9 111.3 L161.7 110.9 L162.5 110.4 L163.3 110.0 L164.1 109.6 L164.9 109.1 L165.8 108.7 L166.6 108.3 L167.4 107.8 L168.2 107.4 L169.0 107.0 L169.8 106.5 L170.6 106.1 L171.4 105.7 L172.2 105.3 L173.0 104.8 L173.8 104.4 L174.6 104.0 L175.4 103.6 L176.2 103.1 L177.0 102.7 L177.8 102.3 L178.6 101.8 L179.4 101.4 L180.2 101.0 L181.1 100.5 L181.9 100.1 L182.7 99.7 L183.5 99.2 L184.3 98.8 L185.1 98.3 L185.9 97.9 L186.7 97.4 L187.5 97.0 L188.3 96.5 L189.1 96.1 L189.9 95.6 L190.7 95.2 L191.5 94.7 L192.3 94.3 L193.1 93.8 L193.9 93.4 L194.7 92.9 L195.5 92.4 L196.3 92.0 L197.2 91.5 L198.0 91.1 L198.8 90.6 L199.6 90.1 L200.4 89.7 L201.2 89.2 L202.0 88.8 L202.8 88.3 L203.6 87.8 L204.4 87.4 L205.2 86.9 L206.0 86.5 L206.8 86.0 L207.6 85.5 L208.4 85.1 L209.2 84.6 L210.0 84.2 L210.8 83.7 L211.6 83.2 L212.4 82.8 L213.3 82.3 L214.1 81.9 L214.9 81.4 L215.7 81.0 L216.5 80.5 L217.3 80.1 L218.1 79.6 L218.9 79.2 L219.7 78.7 L220.5 78.3 L221.3 77.8 L222.1 77.4 L222.9 77.0 L223.7 76.5 L224.5 76.1 L225.3 75.6 L226.1 75.2 L226.9 74.8 L227.7 74.3 L228.6 73.9 L229.4 73.5 L230.2 73.1 L231.0 72.6 L231.8 72.2 L232.6 71.8 L233.4 71.4 L234.2 70.9 L235.0 70.5 L235.8 70.1 L236.6 69.7 L237.4 69.2 L238.2 68.8 L239.0 68.4 L239.8 68.0 L240.6 67.5 L241.4 67.1 L242.2 66.7 L243.0 66.3 L243.8 65.8 L244.7 65.4 L245.5 65.0 L246.3 64.6 L247.1 64.1 L247.9 63.7 L248.7 63.3 L249.5 62.9" fill="none" stroke="#B177DE" stroke-width="1.5" stroke-linejoin="round"/>
<path d="M46.6 188.2 L47.4 187.8 L48.2 187.4 L49.0 187.0 L49.8 186.6 L50.6 186.2 L51.4 185.8 L52.2 185.4 L53.0 185.0 L53.8 184.6 L54.7 184.2 L55.5 183.8 L56.3 183.4 L57.1 182.9 L57.9 182.5 L58.7 182.1 L59.5 181.6 L60.3 181.2 L61.1 180.8 L61.9 180.3 L62.7 179.9 L63.5 179.4 L64.3 179.0 L65.1 178.6 L65.9 178.2 L66.7 177.7 L67.5 177.4 L68.3 177.0 L69.1 176.6 L69.9 176.2 L70.8 175.9 L71.6 175.5 L72.4 175.1 L73.2 174.8 L74.0 174.4 L74.8 174.1 L75.6 173.8 L76.4 173.4 L77.2 173.1 L78.0 172.7 L78.8 172.4 L79.6 172.0 L80.4 171.7 L81.2 171.4 L82.0 171.0 L82.8 170.7 L83.6 170.2 L84.4 169.8 L85.2 169.2 L86.0 168.7 L86.9 168.1 L87.7 167.4 L88.5 166.8 L89.3 166.1 L90.1 165.4 L90.9 164.7 L91.7 163.9 L92.5 163.2 L93.3 162.5 L94.1 161.7 L94.9 161.0 L95.7 160.3 L96.5 159.6 L97.3 158.9 L98.1 158.1 L98.9 157.3 L99.7 156.6 L100.5 155.8 L101.3 155.0 L102.2 154.3 L103.0 153.5 L103.8 152.7 L104.6 152.0 L105.4 151.3 L106.2 150.6 L107.0 149.9 L107.8 149.2 L108.6 148.5 L109.4 147.9 L110.2 147.2 L111.0 146.5 L111.8 145.9 L112.6 145.2 L113.4 144.6 L114.2 143.9 L115.0 143.3 L115.8 142.6 L116.6 142.0 L117.4 141.3 L118.3 140.6 L119.1 139.9 L119.9 139.3 L120.7 138.6 L121.5 137.9 L122.3 137.2 L123.1 136.6 L123.9 135.9 L124.7 135.3 L125.5 134.6 L126.3 134.0 L127.1 133.4 L127.9 132.8 L128.7 132.2 L129.5 131.6 L130.3 131.0 L131.1 130.4 L131.9 129.8 L132.7 129.2 L133.5 128.7 L134.4 128.1 L135.2 127.5 L136.0 127.0 L136.8 126.4 L137.6 125.8 L138.4 125.3 L139.2 124.7 L140.0 124.2 L140.8 123.6 L141.6 123.1 L142.4 122.5 L143.2 122.0 L144.0 121.5 L144.8 120.9 L145.6 120.4 L146.4 119.9 L147.2 119.4 L148.0 118.8 L148.8 118.3 L149.7 117.8 L150.5 117.3 L151.3 116.9 L152.1 116.4 L152.9 115.9 L153.7 115.4 L154.5 115.0 L155.3 114.5 L156.1 114.0 L156.9 113.6 L157.7 113.1 L158.5 112.7 L159.3 112.2 L160.1 111.8 L160.9 111.3 L161.7 110.9 L162.5 110.4 L163.3 110.0 L164.1 109.6 L164.9 109.1 L165.8 108.7 L166.6 108.3 L167.4 107.8 L168.2 107.4 L169.0 107.0 L169.8 106.5 L170.6 106.1 L171.4 105.7 L172.2 105.3 L173.0 104.8 L173.8 104.4 L174.6 104.0 L175.4 103.6 L176.2 103.1 L177.0 102.7 L177.8 102.3 L178.6 101.8 L179.4 101.4 L180.2 101.0 L181.1 100.5 L181.9 100.1 L182.7 99.7 L183.5 99.2 L184.3 98.8 L185.1 98.3 L185.9 97.9 L186.7 97.4 L187.5 97.0 L188.3 96.5 L189.1 96.1 L189.9 95.6 L190.7 95.2 L191.5 94.7 L192.3 94.3 L193.1 93.8 L193.9 93.4 L194.7 92.9 L195.5 92.4 L196.3 92.0 L197.2 91.5 L198.0 91.1 L198.8 90.6 L199.6 90.1 L200.4 89.7 L201.2 89.2 L202.0 88.8 L202.8 88.3 L203.6 87.8 L204.4 87.4 L205.2 86.9 L206.0 86.5 L206.8 86.0 L207.6 85.5 L208.4 85.1 L209.2 84.6 L210.0 84.2 L210.8 83.7 L211.6 83.2 L212.4 82.8 L213.3 82.3 L214.1 81.9 L214.9 81.4 L215.7 81.0 L216.5 80.5 L217.3 80.1 L218.1 79.6 L218.9 79.2 L219.7 78.7 L220.5 78.3 L221.3 77.8 L222.1 77.4 L222.9 77.0 L223.7 76.5 L224.5 76.1 L225.3 75.6 L226.1 75.2 L226.9 74.8 L227.7 74.3 L228.6 73.9 L229.4 73.5 L230.2 73.1 L231.0 72.6 L231.8 72.2 L232.6 71.8 L233.4 71.4 L234.2 70.9 L235.0 70.5 L235.8 70.1 L236.6 69.7 L237.4 69.2 L238.2 68.8 L239.0 68.4 L239.8 68.0 L240.6 67.5 L241.4 67.1 L242.2 66.7 L243.0 66.3 L243.8 65.8 L244.7 65.4 L245.5 65.0 L246.3 64.6 L247.1 64.1 L247.9 63.7 L248.7 63.3 L249.5 62.9" fill="none" stroke="#B177DE" stroke-width="2.5" stroke-linecap="round" stroke-dasharray="0 3.3"/>
<rect x="46.6" y="10.0" width="221.40" height="178.20" fill="none" stroke="#333333" stroke-width="1.3"/>
<path d="M46.60 188.20V191.70M46.60 10.00V13.00M86.85 188.20V191.70M86.85 10.00V13.00M127.11 188.20V191.70M127.11 10.00V13.00M167.36 188.20V191.70M167.36 10.00V13.00M207.62 188.20V191.70M207.62 10.00V13.00M247.87 188.20V191.70M247.87 10.00V13.00M66.73 188.20V190.40M66.73 10.00V11.90M106.98 188.20V190.40M106.98 10.00V11.90M147.24 188.20V190.40M147.24 10.00V11.90M187.49 188.20V190.40M187.49 10.00V11.90M227.75 188.20V190.40M227.75 10.00V11.90M268.00 188.20V190.40M268.00 10.00V11.90M46.60 188.20H43.10M268.00 188.20H265.00M46.60 158.50H43.10M268.00 158.50H265.00M46.60 128.80H43.10M268.00 128.80H265.00M46.60 99.10H43.10M268.00 99.10H265.00M46.60 69.40H43.10M268.00 69.40H265.00M46.60 39.70H43.10M268.00 39.70H265.00M46.60 10.00H43.10M268.00 10.00H265.00M46.60 173.35H44.40M268.00 173.35H266.10M46.60 143.65H44.40M268.00 143.65H266.10M46.60 113.95H44.40M268.00 113.95H266.10M46.60 84.25H44.40M268.00 84.25H266.10M46.60 54.55H44.40M268.00 54.55H266.10M46.60 24.85H44.40M268.00 24.85H266.10" stroke="#333333" stroke-width="1.2" fill="none"/>
<text x="46.60" y="203.3" font-size="11.5" text-anchor="middle">0</text>
<text x="86.85" y="203.3" font-size="11.5" text-anchor="middle">5</text>
<text x="127.11" y="203.3" font-size="11.5" text-anchor="middle">10</text>
<text x="167.36" y="203.3" font-size="11.5" text-anchor="middle">15</text>
<text x="207.62" y="203.3" font-size="11.5" text-anchor="middle">20</text>
<text x="247.87" y="203.3" font-size="11.5" text-anchor="middle">25</text>
<text x="41" y="192.30" font-size="11.5" text-anchor="end" transform="translate(0.00,0)">0.0</text>
<text x="41" y="162.60" font-size="11.5" text-anchor="end" transform="translate(0.00,0)">0.5</text>
<text x="41" y="132.90" font-size="11.5" text-anchor="end" transform="translate(0.00,0)">1.0</text>
<text x="41" y="103.20" font-size="11.5" text-anchor="end" transform="translate(0.00,0)">1.5</text>
<text x="41" y="73.50" font-size="11.5" text-anchor="end" transform="translate(0.00,0)">2.0</text>
<text x="41" y="43.80" font-size="11.5" text-anchor="end" transform="translate(0.00,0)">2.5</text>
<text x="41" y="14.10" font-size="11.5" text-anchor="end" transform="translate(0.00,0)">3.0</text>
<rect x="51" y="15.5" width="83.20" height="63.50" fill="#fff" stroke="#7a7a7a" stroke-width="1"/>
<path d="M53.2 22.70H75.3" stroke="#515151" stroke-width="1.2"/>
<circle cx="64.25" cy="22.70" r="1.2" fill="#515151"/>
<text x="78.6" y="26.30" font-size="10">NR-unfilled</text>
<path d="M53.2 35.13H75.3" stroke="#F14040" stroke-width="1.2"/>
<circle cx="64.25" cy="35.13" r="1.2" fill="#F14040"/>
<text x="78.6" y="38.73" font-size="10">NR/20-DE</text>
<path d="M53.2 47.56H75.3" stroke="#1A6FDF" stroke-width="1.2"/>
<circle cx="64.25" cy="47.56" r="1.2" fill="#1A6FDF"/>
<text x="78.6" y="51.16" font-size="10">NR/20-mDE</text>
<path d="M53.2 59.99H75.3" stroke="#37AD6B" stroke-width="1.2"/>
<circle cx="64.25" cy="59.99" r="1.2" fill="#37AD6B"/>
<text x="78.6" y="63.59" font-size="10">NR/40-mDE</text>
<path d="M53.2 72.42H75.3" stroke="#B177DE" stroke-width="1.2"/>
<circle cx="64.25" cy="72.42" r="1.2" fill="#B177DE"/>
<text x="78.6" y="76.02" font-size="10">NR/60-mDE</text>
<text x="226.2" y="36.5" font-size="18.4" transform="translate(226.2,0) scale(0.95,1) translate(-226.2,0)">(a)</text>
<text x="157.30" y="223.6" font-size="14.9" text-anchor="middle">Compressive strain (%)</text>
<text x="0" y="0" font-size="14.9" text-anchor="middle" transform="translate(16.70,99.2) rotate(-90)">Compressive stress (MPa)</text>
<path d="M322.7 188.2 L323.5 188.1 L324.3 188.1 L325.1 188.0 L325.9 187.9 L326.7 187.8 L327.5 187.8 L328.3 187.7 L329.1 187.6 L330.0 187.6 L330.8 187.5 L331.6 187.4 L332.4 187.4 L333.2 187.3 L334.0 187.2 L334.8 187.1 L335.6 187.1 L336.4 187.0 L337.2 186.9 L338.0 186.9 L338.8 186.8 L339.6 186.7 L340.4 186.7 L341.2 186.6 L342.0 186.5 L342.8 186.4 L343.7 186.4 L344.5 186.3 L345.3 186.2 L346.1 186.2 L346.9 186.1 L347.7 186.0 L348.5 186.0 L349.3 185.9 L350.1 185.8 L350.9 185.7 L351.7 185.7 L352.5 185.6 L353.3 185.5 L354.1 185.5 L354.9 185.4 L355.7 185.3 L356.5 185.3 L357.4 185.2 L358.2 185.1 L359.0 185.0 L359.8 185.0 L360.6 184.9 L361.4 184.8 L362.2 184.8 L363.0 184.7 L363.8 184.6 L364.6 184.6 L365.4 184.5 L366.2 184.4 L367.0 184.3 L367.8 184.3 L368.6 184.2 L369.4 184.1 L370.2 184.1 L371.0 184.0 L371.9 183.9 L372.7 183.9 L373.5 183.8 L374.3 183.7 L375.1 183.7 L375.9 183.6 L376.7 183.5 L377.5 183.4 L378.3 183.4 L379.1 183.3 L379.9 183.2 L380.7 183.2 L381.5 183.1 L382.3 183.0 L383.1 183.0 L383.9 182.9 L384.7 182.8 L385.6 182.8 L386.4 182.7 L387.2 182.6 L388.0 182.6 L388.8 182.5 L389.6 182.4 L390.4 182.4 L391.2 182.3 L392.0 182.2 L392.8 182.2 L393.6 182.1 L394.4 182.0 L395.2 181.9 L396.0 181.9 L396.8 181.8 L397.6 181.7 L398.4 181.7 L399.3 181.6 L400.1 181.5 L400.9 181.5 L401.7 181.4 L402.5 181.3 L403.3 181.3 L404.1 181.2 L404.9 181.1 L405.7 181.1 L406.5 181.0 L407.3 180.9 L408.1 180.9 L408.9 180.8 L409.7 180.7 L410.5 180.7 L411.3 180.6 L412.1 180.5 L413.0 180.5 L413.8 180.4 L414.6 180.3 L415.4 180.2 L416.2 180.2 L417.0 180.1 L417.8 180.0 L418.6 180.0 L419.4 179.9 L420.2 179.8 L421.0 179.8 L421.8 179.7 L422.6 179.6 L423.4 179.6 L424.2 179.5 L425.0 179.4 L425.8 179.3 L426.7 179.3 L427.5 179.2 L428.3 179.1 L429.1 179.1 L429.9 179.0 L430.7 178.9 L431.5 178.8 L432.3 178.8 L433.1 178.7 L433.9 178.6 L434.7 178.6 L435.5 178.5 L436.3 178.4 L437.1 178.3 L437.9 178.3 L438.7 178.2 L439.5 178.1 L440.3 178.1 L441.2 178.0 L442.0 177.9 L442.8 177.8 L443.6 177.8 L444.4 177.7 L445.2 177.6 L446.0 177.5 L446.8 177.5 L447.6 177.4 L448.4 177.3 L449.2 177.2 L450.0 177.2 L450.8 177.1 L451.6 177.0 L452.4 176.9 L453.2 176.9 L454.0 176.8 L454.9 176.7 L455.7 176.6 L456.5 176.6 L457.3 176.5 L458.1 176.4 L458.9 176.3 L459.7 176.3 L460.5 176.2 L461.3 176.1 L462.1 176.0 L462.9 176.0 L463.7 175.9 L464.5 175.8 L465.3 175.7 L466.1 175.7 L466.9 175.6 L467.7 175.5 L468.6 175.4 L469.4 175.3 L470.2 175.3 L471.0 175.2 L471.8 175.1 L472.6 175.0 L473.4 175.0 L474.2 174.9 L475.0 174.8 L475.8 174.7 L476.6 174.7 L477.4 174.6 L478.2 174.5 L479.0 174.4 L479.8 174.3 L480.6 174.3 L481.4 174.2 L482.3 174.1 L483.1 174.0 L483.9 174.0 L484.7 173.9 L485.5 173.8 L486.3 173.7 L487.1 173.6 L487.9 173.6 L488.7 173.5 L489.5 173.4 L490.3 173.3 L491.1 173.3 L491.9 173.2 L492.7 173.1 L493.5 173.0 L494.3 172.9 L495.1 172.9 L496.0 172.8 L496.8 172.7 L497.6 172.6 L498.4 172.6 L499.2 172.5 L500.0 172.4 L500.8 172.3 L501.6 172.2 L502.4 172.2 L503.2 172.1 L504.0 172.0 L504.8 171.9 L505.6 171.9 L506.4 171.8 L507.2 171.7 L508.0 171.6 L508.8 171.5 L509.6 171.5 L510.5 171.4 L511.3 171.3 L512.1 171.2 L512.9 171.2 L513.7 171.1 L514.5 171.0 L515.3 170.9 L516.1 170.9 L516.9 170.8 L517.7 170.7 L518.5 170.6 L519.3 170.5 L520.1 170.5 L520.9 170.4 L521.7 170.3 L522.5 170.2 L523.3 170.2 L524.2 170.1" fill="none" stroke="#515151" stroke-width="1.5" stroke-linejoin="round"/>
<path d="M322.7 188.2 L323.5 188.1 L324.3 188.1 L325.1 188.0 L325.9 187.9 L326.7 187.8 L327.5 187.8 L328.3 187.7 L329.1 187.6 L330.0 187.6 L330.8 187.5 L331.6 187.4 L332.4 187.4 L333.2 187.3 L334.0 187.2 L334.8 187.1 L335.6 187.1 L336.4 187.0 L337.2 186.9 L338.0 186.9 L338.8 186.8 L339.6 186.7 L340.4 186.7 L341.2 186.6 L342.0 186.5 L342.8 186.4 L343.7 186.4 L344.5 186.3 L345.3 186.2 L346.1 186.2 L346.9 186.1 L347.7 186.0 L348.5 186.0 L349.3 185.9 L350.1 185.8 L350.9 185.7 L351.7 185.7 L352.5 185.6 L353.3 185.5 L354.1 185.5 L354.9 185.4 L355.7 185.3 L356.5 185.3 L357.4 185.2 L358.2 185.1 L359.0 185.0 L359.8 185.0 L360.6 184.9 L361.4 184.8 L362.2 184.8 L363.0 184.7 L363.8 184.6 L364.6 184.6 L365.4 184.5 L366.2 184.4 L367.0 184.3 L367.8 184.3 L368.6 184.2 L369.4 184.1 L370.2 184.1 L371.0 184.0 L371.9 183.9 L372.7 183.9 L373.5 183.8 L374.3 183.7 L375.1 183.7 L375.9 183.6 L376.7 183.5 L377.5 183.4 L378.3 183.4 L379.1 183.3 L379.9 183.2 L380.7 183.2 L381.5 183.1 L382.3 183.0 L383.1 183.0 L383.9 182.9 L384.7 182.8 L385.6 182.8 L386.4 182.7 L387.2 182.6 L388.0 182.6 L388.8 182.5 L389.6 182.4 L390.4 182.4 L391.2 182.3 L392.0 182.2 L392.8 182.2 L393.6 182.1 L394.4 182.0 L395.2 181.9 L396.0 181.9 L396.8 181.8 L397.6 181.7 L398.4 181.7 L399.3 181.6 L400.1 181.5 L400.9 181.5 L401.7 181.4 L402.5 181.3 L403.3 181.3 L404.1 181.2 L404.9 181.1 L405.7 181.1 L406.5 181.0 L407.3 180.9 L408.1 180.9 L408.9 180.8 L409.7 180.7 L410.5 180.7 L411.3 180.6 L412.1 180.5 L413.0 180.5 L413.8 180.4 L414.6 180.3 L415.4 180.2 L416.2 180.2 L417.0 180.1 L417.8 180.0 L418.6 180.0 L419.4 179.9 L420.2 179.8 L421.0 179.8 L421.8 179.7 L422.6 179.6 L423.4 179.6 L424.2 179.5 L425.0 179.4 L425.8 179.3 L426.7 179.3 L427.5 179.2 L428.3 179.1 L429.1 179.1 L429.9 179.0 L430.7 178.9 L431.5 178.8 L432.3 178.8 L433.1 178.7 L433.9 178.6 L434.7 178.6 L435.5 178.5 L436.3 178.4 L437.1 178.3 L437.9 178.3 L438.7 178.2 L439.5 178.1 L440.3 178.1 L441.2 178.0 L442.0 177.9 L442.8 177.8 L443.6 177.8 L444.4 177.7 L445.2 177.6 L446.0 177.5 L446.8 177.5 L447.6 177.4 L448.4 177.3 L449.2 177.2 L450.0 177.2 L450.8 177.1 L451.6 177.0 L452.4 176.9 L453.2 176.9 L454.0 176.8 L454.9 176.7 L455.7 176.6 L456.5 176.6 L457.3 176.5 L458.1 176.4 L458.9 176.3 L459.7 176.3 L460.5 176.2 L461.3 176.1 L462.1 176.0 L462.9 176.0 L463.7 175.9 L464.5 175.8 L465.3 175.7 L466.1 175.7 L466.9 175.6 L467.7 175.5 L468.6 175.4 L469.4 175.3 L470.2 175.3 L471.0 175.2 L471.8 175.1 L472.6 175.0 L473.4 175.0 L474.2 174.9 L475.0 174.8 L475.8 174.7 L476.6 174.7 L477.4 174.6 L478.2 174.5 L479.0 174.4 L479.8 174.3 L480.6 174.3 L481.4 174.2 L482.3 174.1 L483.1 174.0 L483.9 174.0 L484.7 173.9 L485.5 173.8 L486.3 173.7 L487.1 173.6 L487.9 173.6 L488.7 173.5 L489.5 173.4 L490.3 173.3 L491.1 173.3 L491.9 173.2 L492.7 173.1 L493.5 173.0 L494.3 172.9 L495.1 172.9 L496.0 172.8 L496.8 172.7 L497.6 172.6 L498.4 172.6 L499.2 172.5 L500.0 172.4 L500.8 172.3 L501.6 172.2 L502.4 172.2 L503.2 172.1 L504.0 172.0 L504.8 171.9 L505.6 171.9 L506.4 171.8 L507.2 171.7 L508.0 171.6 L508.8 171.5 L509.6 171.5 L510.5 171.4 L511.3 171.3 L512.1 171.2 L512.9 171.2 L513.7 171.1 L514.5 171.0 L515.3 170.9 L516.1 170.9 L516.9 170.8 L517.7 170.7 L518.5 170.6 L519.3 170.5 L520.1 170.5 L520.9 170.4 L521.7 170.3 L522.5 170.2 L523.3 170.2 L524.2 170.1" fill="none" stroke="#515151" stroke-width="2.5" stroke-linecap="round" stroke-dasharray="0 3.3"/>
<path d="M322.7 188.2 L323.5 188.1 L324.3 188.0 L325.1 187.9 L325.9 187.8 L326.7 187.7 L327.5 187.6 L328.3 187.5 L329.1 187.4 L330.0 187.3 L330.8 187.2 L331.6 187.1 L332.4 187.0 L333.2 186.9 L334.0 186.8 L334.8 186.7 L335.6 186.6 L336.4 186.5 L337.2 186.4 L338.0 186.3 L338.8 186.2 L339.6 186.1 L340.4 185.9 L341.2 185.8 L342.0 185.7 L342.8 185.6 L343.7 185.5 L344.5 185.4 L345.3 185.3 L346.1 185.2 L346.9 185.0 L347.7 184.9 L348.5 184.8 L349.3 184.7 L350.1 184.6 L350.9 184.4 L351.7 184.3 L352.5 184.2 L353.3 184.1 L354.1 183.9 L354.9 183.8 L355.7 183.7 L356.5 183.6 L357.4 183.4 L358.2 183.3 L359.0 183.2 L359.8 183.1 L360.6 182.9 L361.4 182.8 L362.2 182.7 L363.0 182.6 L363.8 182.4 L364.6 182.3 L365.4 182.2 L366.2 182.1 L367.0 181.9 L367.8 181.8 L368.6 181.7 L369.4 181.6 L370.2 181.4 L371.0 181.3 L371.9 181.2 L372.7 181.1 L373.5 181.0 L374.3 180.8 L375.1 180.7 L375.9 180.6 L376.7 180.5 L377.5 180.4 L378.3 180.2 L379.1 180.1 L379.9 180.0 L380.7 179.9 L381.5 179.8 L382.3 179.7 L383.1 179.5 L383.9 179.4 L384.7 179.3 L385.6 179.2 L386.4 179.1 L387.2 178.9 L388.0 178.8 L388.8 178.7 L389.6 178.6 L390.4 178.5 L391.2 178.4 L392.0 178.3 L392.8 178.1 L393.6 178.0 L394.4 177.9 L395.2 177.8 L396.0 177.7 L396.8 177.6 L397.6 177.5 L398.4 177.4 L399.3 177.3 L400.1 177.2 L400.9 177.0 L401.7 176.9 L402.5 176.8 L403.3 176.7 L404.1 176.6 L404.9 176.5 L405.7 176.4 L406.5 176.3 L407.3 176.3 L408.1 176.2 L408.9 176.1 L409.7 176.0 L410.5 175.9 L411.3 175.8 L412.1 175.7 L413.0 175.6 L413.8 175.5 L414.6 175.4 L415.4 175.3 L416.2 175.3 L417.0 175.2 L417.8 175.1 L418.6 175.0 L419.4 174.9 L420.2 174.8 L421.0 174.7 L421.8 174.6 L422.6 174.6 L423.4 174.5 L424.2 174.4 L425.0 174.3 L425.8 174.2 L426.7 174.1 L427.5 174.0 L428.3 173.9 L429.1 173.8 L429.9 173.7 L430.7 173.6 L431.5 173.5 L432.3 173.4 L433.1 173.3 L433.9 173.2 L434.7 173.1 L435.5 173.0 L436.3 172.9 L437.1 172.8 L437.9 172.7 L438.7 172.6 L439.5 172.5 L440.3 172.4 L441.2 172.3 L442.0 172.2 L442.8 172.1 L443.6 172.0 L444.4 171.8 L445.2 171.7 L446.0 171.6 L446.8 171.5 L447.6 171.4 L448.4 171.3 L449.2 171.1 L450.0 171.0 L450.8 170.9 L451.6 170.8 L452.4 170.7 L453.2 170.6 L454.0 170.4 L454.9 170.3 L455.7 170.2 L456.5 170.1 L457.3 170.0 L458.1 169.8 L458.9 169.7 L459.7 169.6 L460.5 169.5 L461.3 169.3 L462.1 169.2 L462.9 169.1 L463.7 169.0 L464.5 168.8 L465.3 168.7 L466.1 168.6 L466.9 168.5 L467.7 168.3 L468.6 168.2 L469.4 168.1 L470.2 167.9 L471.0 167.8 L471.8 167.7 L472.6 167.5 L473.4 167.4 L474.2 167.3 L475.0 167.2 L475.8 167.0 L476.6 166.9 L477.4 166.8 L478.2 166.6 L479.0 166.5 L479.8 166.4 L480.6 166.2 L481.4 166.1 L482.3 166.0 L483.1 165.8 L483.9 165.7 L484.7 165.6 L485.5 165.4 L486.3 165.3 L487.1 165.2 L487.9 165.0 L488.7 164.9 L489.5 164.8 L490.3 164.6 L491.1 164.5 L491.9 164.4 L492.7 164.2 L493.5 164.1 L494.3 164.0 L495.1 163.8 L496.0 163.7 L496.8 163.6 L497.6 163.4 L498.4 163.3 L499.2 163.2 L500.0 163.0 L500.8 162.9 L501.6 162.8 L502.4 162.6 L503.2 162.5 L504.0 162.4 L504.8 162.2 L505.6 162.1 L506.4 162.0 L507.2 161.8 L508.0 161.7 L508.8 161.6 L509.6 161.4 L510.5 161.3 L511.3 161.2 L512.1 161.0 L512.9 160.9 L513.7 160.8 L514.5 160.6 L515.3 160.5 L516.1 160.4 L516.9 160.3 L517.7 160.1 L518.5 160.0 L519.3 159.9 L520.1 159.7 L520.9 159.6 L521.7 159.5 L522.5 159.3 L523.3 159.2 L524.2 159.1" fill="none" stroke="#F14040" stroke-width="1.5" stroke-linejoin="round"/>
<path d="M322.7 188.2 L323.5 188.1 L324.3 188.0 L325.1 187.9 L325.9 187.8 L326.7 187.7 L327.5 187.6 L328.3 187.5 L329.1 187.4 L330.0 187.3 L330.8 187.2 L331.6 187.1 L332.4 187.0 L333.2 186.9 L334.0 186.8 L334.8 186.7 L335.6 186.6 L336.4 186.5 L337.2 186.4 L338.0 186.3 L338.8 186.2 L339.6 186.1 L340.4 185.9 L341.2 185.8 L342.0 185.7 L342.8 185.6 L343.7 185.5 L344.5 185.4 L345.3 185.3 L346.1 185.2 L346.9 185.0 L347.7 184.9 L348.5 184.8 L349.3 184.7 L350.1 184.6 L350.9 184.4 L351.7 184.3 L352.5 184.2 L353.3 184.1 L354.1 183.9 L354.9 183.8 L355.7 183.7 L356.5 183.6 L357.4 183.4 L358.2 183.3 L359.0 183.2 L359.8 183.1 L360.6 182.9 L361.4 182.8 L362.2 182.7 L363.0 182.6 L363.8 182.4 L364.6 182.3 L365.4 182.2 L366.2 182.1 L367.0 181.9 L367.8 181.8 L368.6 181.7 L369.4 181.6 L370.2 181.4 L371.0 181.3 L371.9 181.2 L372.7 181.1 L373.5 181.0 L374.3 180.8 L375.1 180.7 L375.9 180.6 L376.7 180.5 L377.5 180.4 L378.3 180.2 L379.1 180.1 L379.9 180.0 L380.7 179.9 L381.5 179.8 L382.3 179.7 L383.1 179.5 L383.9 179.4 L384.7 179.3 L385.6 179.2 L386.4 179.1 L387.2 178.9 L388.0 178.8 L388.8 178.7 L389.6 178.6 L390.4 178.5 L391.2 178.4 L392.0 178.3 L392.8 178.1 L393.6 178.0 L394.4 177.9 L395.2 177.8 L396.0 177.7 L396.8 177.6 L397.6 177.5 L398.4 177.4 L399.3 177.3 L400.1 177.2 L400.9 177.0 L401.7 176.9 L402.5 176.8 L403.3 176.7 L404.1 176.6 L404.9 176.5 L405.7 176.4 L406.5 176.3 L407.3 176.3 L408.1 176.2 L408.9 176.1 L409.7 176.0 L410.5 175.9 L411.3 175.8 L412.1 175.7 L413.0 175.6 L413.8 175.5 L414.6 175.4 L415.4 175.3 L416.2 175.3 L417.0 175.2 L417.8 175.1 L418.6 175.0 L419.4 174.9 L420.2 174.8 L421.0 174.7 L421.8 174.6 L422.6 174.6 L423.4 174.5 L424.2 174.4 L425.0 174.3 L425.8 174.2 L426.7 174.1 L427.5 174.0 L428.3 173.9 L429.1 173.8 L429.9 173.7 L430.7 173.6 L431.5 173.5 L432.3 173.4 L433.1 173.3 L433.9 173.2 L434.7 173.1 L435.5 173.0 L436.3 172.9 L437.1 172.8 L437.9 172.7 L438.7 172.6 L439.5 172.5 L440.3 172.4 L441.2 172.3 L442.0 172.2 L442.8 172.1 L443.6 172.0 L444.4 171.8 L445.2 171.7 L446.0 171.6 L446.8 171.5 L447.6 171.4 L448.4 171.3 L449.2 171.1 L450.0 171.0 L450.8 170.9 L451.6 170.8 L452.4 170.7 L453.2 170.6 L454.0 170.4 L454.9 170.3 L455.7 170.2 L456.5 170.1 L457.3 170.0 L458.1 169.8 L458.9 169.7 L459.7 169.6 L460.5 169.5 L461.3 169.3 L462.1 169.2 L462.9 169.1 L463.7 169.0 L464.5 168.8 L465.3 168.7 L466.1 168.6 L466.9 168.5 L467.7 168.3 L468.6 168.2 L469.4 168.1 L470.2 167.9 L471.0 167.8 L471.8 167.7 L472.6 167.5 L473.4 167.4 L474.2 167.3 L475.0 167.2 L475.8 167.0 L476.6 166.9 L477.4 166.8 L478.2 166.6 L479.0 166.5 L479.8 166.4 L480.6 166.2 L481.4 166.1 L482.3 166.0 L483.1 165.8 L483.9 165.7 L484.7 165.6 L485.5 165.4 L486.3 165.3 L487.1 165.2 L487.9 165.0 L488.7 164.9 L489.5 164.8 L490.3 164.6 L491.1 164.5 L491.9 164.4 L492.7 164.2 L493.5 164.1 L494.3 164.0 L495.1 163.8 L496.0 163.7 L496.8 163.6 L497.6 163.4 L498.4 163.3 L499.2 163.2 L500.0 163.0 L500.8 162.9 L501.6 162.8 L502.4 162.6 L503.2 162.5 L504.0 162.4 L504.8 162.2 L505.6 162.1 L506.4 162.0 L507.2 161.8 L508.0 161.7 L508.8 161.6 L509.6 161.4 L510.5 161.3 L511.3 161.2 L512.1 161.0 L512.9 160.9 L513.7 160.8 L514.5 160.6 L515.3 160.5 L516.1 160.4 L516.9 160.3 L517.7 160.1 L518.5 160.0 L519.3 159.9 L520.1 159.7 L520.9 159.6 L521.7 159.5 L522.5 159.3 L523.3 159.2 L524.2 159.1" fill="none" stroke="#F14040" stroke-width="2.5" stroke-linecap="round" stroke-dasharray="0 3.3"/>
<path d="M322.7 188.2 L323.5 188.0 L324.3 187.8 L325.1 187.6 L325.9 187.4 L326.7 187.2 L327.5 187.0 L328.3 186.8 L329.1 186.5 L330.0 186.3 L330.8 186.1 L331.6 185.9 L332.4 185.7 L333.2 185.5 L334.0 185.3 L334.8 185.1 L335.6 184.9 L336.4 184.7 L337.2 184.5 L338.0 184.3 L338.8 184.1 L339.6 183.8 L340.4 183.6 L341.2 183.4 L342.0 183.2 L342.8 183.0 L343.7 182.8 L344.5 182.6 L345.3 182.4 L346.1 182.2 L346.9 182.0 L347.7 181.8 L348.5 181.6 L349.3 181.4 L350.1 181.2 L350.9 181.0 L351.7 180.8 L352.5 180.6 L353.3 180.4 L354.1 180.2 L354.9 180.0 L355.7 179.8 L356.5 179.6 L357.4 179.4 L358.2 179.2 L359.0 179.0 L359.8 178.8 L360.6 178.6 L361.4 178.4 L362.2 178.2 L363.0 178.1 L363.8 177.9 L364.6 177.7 L365.4 177.5 L366.2 177.3 L367.0 177.1 L367.8 176.9 L368.6 176.7 L369.4 176.5 L370.2 176.3 L371.0 176.1 L371.9 175.9 L372.7 175.7 L373.5 175.5 L374.3 175.3 L375.1 175.1 L375.9 174.9 L376.7 174.7 L377.5 174.5 L378.3 174.3 L379.1 174.1 L379.9 173.9 L380.7 173.7 L381.5 173.5 L382.3 173.3 L383.1 173.1 L383.9 172.9 L384.7 172.7 L385.6 172.5 L386.4 172.3 L387.2 172.1 L388.0 171.9 L388.8 171.7 L389.6 171.5 L390.4 171.3 L391.2 171.1 L392.0 170.9 L392.8 170.7 L393.6 170.5 L394.4 170.3 L395.2 170.1 L396.0 169.9 L396.8 169.7 L397.6 169.4 L398.4 169.2 L399.3 169.0 L400.1 168.8 L400.9 168.6 L401.7 168.4 L402.5 168.1 L403.3 167.9 L404.1 167.7 L404.9 167.5 L405.7 167.3 L406.5 167.0 L407.3 166.8 L408.1 166.6 L408.9 166.3 L409.7 166.1 L410.5 165.9 L411.3 165.6 L412.1 165.4 L413.0 165.2 L413.8 164.9 L414.6 164.7 L415.4 164.5 L416.2 164.2 L417.0 164.0 L417.8 163.7 L418.6 163.5 L419.4 163.3 L420.2 163.0 L421.0 162.8 L421.8 162.5 L422.6 162.3 L423.4 162.0 L424.2 161.8 L425.0 161.6 L425.8 161.3 L426.7 161.1 L427.5 160.8 L428.3 160.6 L429.1 160.4 L429.9 160.1 L430.7 159.9 L431.5 159.6 L432.3 159.4 L433.1 159.2 L433.9 158.9 L434.7 158.7 L435.5 158.5 L436.3 158.2 L437.1 158.0 L437.9 157.8 L438.7 157.5 L439.5 157.3 L440.3 157.1 L441.2 156.9 L442.0 156.6 L442.8 156.4 L443.6 156.2 L444.4 155.9 L445.2 155.7 L446.0 155.5 L446.8 155.3 L447.6 155.0 L448.4 154.8 L449.2 154.6 L450.0 154.3 L450.8 154.1 L451.6 153.9 L452.4 153.7 L453.2 153.4 L454.0 153.2 L454.9 153.0 L455.7 152.7 L456.5 152.5 L457.3 152.3 L458.1 152.1 L458.9 151.8 L459.7 151.6 L460.5 151.4 L461.3 151.2 L462.1 150.9 L462.9 150.7 L463.7 150.5 L464.5 150.2 L465.3 150.0 L466.1 149.8 L466.9 149.6 L467.7 149.3 L468.6 149.1 L469.4 148.9 L470.2 148.7 L471.0 148.4 L471.8 148.2 L472.6 148.0 L473.4 147.8 L474.2 147.5 L475.0 147.3 L475.8 147.1 L476.6 146.9 L477.4 146.6 L478.2 146.4 L479.0 146.2 L479.8 146.0 L480.6 145.7 L481.4 145.5 L482.3 145.3 L483.1 145.1 L483.9 144.8 L484.7 144.6 L485.5 144.4 L486.3 144.2 L487.1 143.9 L487.9 143.7 L488.7 143.5 L489.5 143.3 L490.3 143.0 L491.1 142.8 L491.9 142.6 L492.7 142.4 L493.5 142.2 L494.3 141.9 L495.1 141.7 L496.0 141.5 L496.8 141.3 L497.6 141.0 L498.4 140.8 L499.2 140.6 L500.0 140.4 L500.8 140.1 L501.6 139.9 L502.4 139.7 L503.2 139.5 L504.0 139.2 L504.8 139.0 L505.6 138.8 L506.4 138.6 L507.2 138.3 L508.0 138.1 L508.8 137.9 L509.6 137.7 L510.5 137.4 L511.3 137.2 L512.1 137.0 L512.9 136.8 L513.7 136.5 L514.5 136.3 L515.3 136.1 L516.1 135.9 L516.9 135.6 L517.7 135.4 L518.5 135.2 L519.3 135.0 L520.1 134.7 L520.9 134.5 L521.7 134.3 L522.5 134.1 L523.3 133.8 L524.2 133.6" fill="none" stroke="#1A6FDF" stroke-width="1.5" stroke-linejoin="round"/>
<path d="M322.7 188.2 L323.5 188.0 L324.3 187.8 L325.1 187.6 L325.9 187.4 L326.7 187.2 L327.5 187.0 L328.3 186.8 L329.1 186.5 L330.0 186.3 L330.8 186.1 L331.6 185.9 L332.4 185.7 L333.2 185.5 L334.0 185.3 L334.8 185.1 L335.6 184.9 L336.4 184.7 L337.2 184.5 L338.0 184.3 L338.8 184.1 L339.6 183.8 L340.4 183.6 L341.2 183.4 L342.0 183.2 L342.8 183.0 L343.7 182.8 L344.5 182.6 L345.3 182.4 L346.1 182.2 L346.9 182.0 L347.7 181.8 L348.5 181.6 L349.3 181.4 L350.1 181.2 L350.9 181.0 L351.7 180.8 L352.5 180.6 L353.3 180.4 L354.1 180.2 L354.9 180.0 L355.7 179.8 L356.5 179.6 L357.4 179.4 L358.2 179.2 L359.0 179.0 L359.8 178.8 L360.6 178.6 L361.4 178.4 L362.2 178.2 L363.0 178.1 L363.8 177.9 L364.6 177.7 L365.4 177.5 L366.2 177.3 L367.0 177.1 L367.8 176.9 L368.6 176.7 L369.4 176.5 L370.2 176.3 L371.0 176.1 L371.9 175.9 L372.7 175.7 L373.5 175.5 L374.3 175.3 L375.1 175.1 L375.9 174.9 L376.7 174.7 L377.5 174.5 L378.3 174.3 L379.1 174.1 L379.9 173.9 L380.7 173.7 L381.5 173.5 L382.3 173.3 L383.1 173.1 L383.9 172.9 L384.7 172.7 L385.6 172.5 L386.4 172.3 L387.2 172.1 L388.0 171.9 L388.8 171.7 L389.6 171.5 L390.4 171.3 L391.2 171.1 L392.0 170.9 L392.8 170.7 L393.6 170.5 L394.4 170.3 L395.2 170.1 L396.0 169.9 L396.8 169.7 L397.6 169.4 L398.4 169.2 L399.3 169.0 L400.1 168.8 L400.9 168.6 L401.7 168.4 L402.5 168.1 L403.3 167.9 L404.1 167.7 L404.9 167.5 L405.7 167.3 L406.5 167.0 L407.3 166.8 L408.1 166.6 L408.9 166.3 L409.7 166.1 L410.5 165.9 L411.3 165.6 L412.1 165.4 L413.0 165.2 L413.8 164.9 L414.6 164.7 L415.4 164.5 L416.2 164.2 L417.0 164.0 L417.8 163.7 L418.6 163.5 L419.4 163.3 L420.2 163.0 L421.0 162.8 L421.8 162.5 L422.6 162.3 L423.4 162.0 L424.2 161.8 L425.0 161.6 L425.8 161.3 L426.7 161.1 L427.5 160.8 L428.3 160.6 L429.1 160.4 L429.9 160.1 L430.7 159.9 L431.5 159.6 L432.3 159.4 L433.1 159.2 L433.9 158.9 L434.7 158.7 L435.5 158.5 L436.3 158.2 L437.1 158.0 L437.9 157.8 L438.7 157.5 L439.5 157.3 L440.3 157.1 L441.2 156.9 L442.0 156.6 L442.8 156.4 L443.6 156.2 L444.4 155.9 L445.2 155.7 L446.0 155.5 L446.8 155.3 L447.6 155.0 L448.4 154.8 L449.2 154.6 L450.0 154.3 L450.8 154.1 L451.6 153.9 L452.4 153.7 L453.2 153.4 L454.0 153.2 L454.9 153.0 L455.7 152.7 L456.5 152.5 L457.3 152.3 L458.1 152.1 L458.9 151.8 L459.7 151.6 L460.5 151.4 L461.3 151.2 L462.1 150.9 L462.9 150.7 L463.7 150.5 L464.5 150.2 L465.3 150.0 L466.1 149.8 L466.9 149.6 L467.7 149.3 L468.6 149.1 L469.4 148.9 L470.2 148.7 L471.0 148.4 L471.8 148.2 L472.6 148.0 L473.4 147.8 L474.2 147.5 L475.0 147.3 L475.8 147.1 L476.6 146.9 L477.4 146.6 L478.2 146.4 L479.0 146.2 L479.8 146.0 L480.6 145.7 L481.4 145.5 L482.3 145.3 L483.1 145.1 L483.9 144.8 L484.7 144.6 L485.5 144.4 L486.3 144.2 L487.1 143.9 L487.9 143.7 L488.7 143.5 L489.5 143.3 L490.3 143.0 L491.1 142.8 L491.9 142.6 L492.7 142.4 L493.5 142.2 L494.3 141.9 L495.1 141.7 L496.0 141.5 L496.8 141.3 L497.6 141.0 L498.4 140.8 L499.2 140.6 L500.0 140.4 L500.8 140.1 L501.6 139.9 L502.4 139.7 L503.2 139.5 L504.0 139.2 L504.8 139.0 L505.6 138.8 L506.4 138.6 L507.2 138.3 L508.0 138.1 L508.8 137.9 L509.6 137.7 L510.5 137.4 L511.3 137.2 L512.1 137.0 L512.9 136.8 L513.7 136.5 L514.5 136.3 L515.3 136.1 L516.1 135.9 L516.9 135.6 L517.7 135.4 L518.5 135.2 L519.3 135.0 L520.1 134.7 L520.9 134.5 L521.7 134.3 L522.5 134.1 L523.3 133.8 L524.2 133.6" fill="none" stroke="#1A6FDF" stroke-width="2.5" stroke-linecap="round" stroke-dasharray="0 3.3"/>
<path d="M322.7 188.2 L323.5 187.8 L324.3 187.4 L325.1 187.0 L325.9 186.6 L326.7 186.2 L327.5 185.8 L328.3 185.3 L329.1 184.9 L330.0 184.5 L330.8 184.1 L331.6 183.7 L332.4 183.3 L333.2 182.9 L334.0 182.5 L334.8 182.1 L335.6 181.7 L336.4 181.3 L337.2 180.9 L338.0 180.5 L338.8 180.1 L339.6 179.7 L340.4 179.3 L341.2 178.9 L342.0 178.5 L342.8 178.1 L343.7 177.7 L344.5 177.4 L345.3 177.0 L346.1 176.6 L346.9 176.3 L347.7 175.9 L348.5 175.5 L349.3 175.2 L350.1 174.8 L350.9 174.5 L351.7 174.1 L352.5 173.8 L353.3 173.5 L354.1 173.1 L354.9 172.8 L355.7 172.4 L356.5 172.1 L357.4 171.7 L358.2 171.4 L359.0 171.0 L359.8 170.6 L360.6 170.3 L361.4 169.9 L362.2 169.5 L363.0 169.2 L363.8 168.8 L364.6 168.4 L365.4 168.0 L366.2 167.6 L367.0 167.2 L367.8 166.8 L368.6 166.4 L369.4 166.0 L370.2 165.6 L371.0 165.2 L371.9 164.8 L372.7 164.4 L373.5 164.0 L374.3 163.5 L375.1 163.1 L375.9 162.7 L376.7 162.3 L377.5 161.8 L378.3 161.4 L379.1 161.0 L379.9 160.5 L380.7 160.1 L381.5 159.7 L382.3 159.2 L383.1 158.8 L383.9 158.3 L384.7 157.9 L385.6 157.4 L386.4 157.0 L387.2 156.5 L388.0 156.1 L388.8 155.7 L389.6 155.2 L390.4 154.8 L391.2 154.3 L392.0 153.9 L392.8 153.4 L393.6 153.0 L394.4 152.5 L395.2 152.1 L396.0 151.6 L396.8 151.2 L397.6 150.7 L398.4 150.3 L399.3 149.9 L400.1 149.4 L400.9 149.0 L401.7 148.5 L402.5 148.1 L403.3 147.7 L404.1 147.2 L404.9 146.8 L405.7 146.4 L406.5 146.0 L407.3 145.6 L408.1 145.1 L408.9 144.7 L409.7 144.3 L410.5 143.9 L411.3 143.5 L412.1 143.1 L413.0 142.7 L413.8 142.3 L414.6 141.9 L415.4 141.6 L416.2 141.2 L417.0 140.8 L417.8 140.4 L418.6 140.1 L419.4 139.7 L420.2 139.3 L421.0 138.9 L421.8 138.6 L422.6 138.2 L423.4 137.9 L424.2 137.5 L425.0 137.1 L425.8 136.8 L426.7 136.4 L427.5 136.0 L428.3 135.7 L429.1 135.3 L429.9 134.9 L430.7 134.6 L431.5 134.2 L432.3 133.8 L433.1 133.5 L433.9 133.1 L434.7 132.7 L435.5 132.3 L436.3 132.0 L437.1 131.6 L437.9 131.2 L438.7 130.8 L439.5 130.4 L440.3 130.0 L441.2 129.6 L442.0 129.3 L442.8 128.9 L443.6 128.5 L444.4 128.1 L445.2 127.7 L446.0 127.3 L446.8 126.9 L447.6 126.5 L448.4 126.1 L449.2 125.8 L450.0 125.4 L450.8 125.0 L451.6 124.6 L452.4 124.2 L453.2 123.8 L454.0 123.4 L454.9 123.0 L455.7 122.6 L456.5 122.2 L457.3 121.8 L458.1 121.4 L458.9 121.0 L459.7 120.6 L460.5 120.2 L461.3 119.8 L462.1 119.4 L462.9 119.0 L463.7 118.6 L464.5 118.2 L465.3 117.8 L466.1 117.4 L466.9 117.0 L467.7 116.6 L468.6 116.2 L469.4 115.8 L470.2 115.4 L471.0 115.0 L471.8 114.6 L472.6 114.2 L473.4 113.8 L474.2 113.4 L475.0 113.0 L475.8 112.6 L476.6 112.2 L477.4 111.8 L478.2 111.4 L479.0 111.0 L479.8 110.6 L480.6 110.2 L481.4 109.8 L482.3 109.4 L483.1 109.0 L483.9 108.6 L484.7 108.2 L485.5 107.8 L486.3 107.4 L487.1 107.0 L487.9 106.6 L488.7 106.2 L489.5 105.8 L490.3 105.4 L491.1 104.9 L491.9 104.5 L492.7 104.1 L493.5 103.7 L494.3 103.3 L495.1 102.9 L496.0 102.5 L496.8 102.1 L497.6 101.7 L498.4 101.3 L499.2 100.9 L500.0 100.5 L500.8 100.1 L501.6 99.7 L502.4 99.3 L503.2 98.9 L504.0 98.5 L504.8 98.1 L505.6 97.7 L506.4 97.3 L507.2 96.9 L508.0 96.4 L508.8 96.0 L509.6 95.6 L510.5 95.2 L511.3 94.8 L512.1 94.4 L512.9 94.0 L513.7 93.6 L514.5 93.2 L515.3 92.8 L516.1 92.4 L516.9 92.0 L517.7 91.6 L518.5 91.2 L519.3 90.8 L520.1 90.4 L520.9 90.0 L521.7 89.6 L522.5 89.2 L523.3 88.8 L524.2 88.4" fill="none" stroke="#37AD6B" stroke-width="1.5" stroke-linejoin="round"/>
<path d="M322.7 188.2 L323.5 187.8 L324.3 187.4 L325.1 187.0 L325.9 186.6 L326.7 186.2 L327.5 185.8 L328.3 185.3 L329.1 184.9 L330.0 184.5 L330.8 184.1 L331.6 183.7 L332.4 183.3 L333.2 182.9 L334.0 182.5 L334.8 182.1 L335.6 181.7 L336.4 181.3 L337.2 180.9 L338.0 180.5 L338.8 180.1 L339.6 179.7 L340.4 179.3 L341.2 178.9 L342.0 178.5 L342.8 178.1 L343.7 177.7 L344.5 177.4 L345.3 177.0 L346.1 176.6 L346.9 176.3 L347.7 175.9 L348.5 175.5 L349.3 175.2 L350.1 174.8 L350.9 174.5 L351.7 174.1 L352.5 173.8 L353.3 173.5 L354.1 173.1 L354.9 172.8 L355.7 172.4 L356.5 172.1 L357.4 171.7 L358.2 171.4 L359.0 171.0 L359.8 170.6 L360.6 170.3 L361.4 169.9 L362.2 169.5 L363.0 169.2 L363.8 168.8 L364.6 168.4 L365.4 168.0 L366.2 167.6 L367.0 167.2 L367.8 166.8 L368.6 166.4 L369.4 166.0 L370.2 165.6 L371.0 165.2 L371.9 164.8 L372.7 164.4 L373.5 164.0 L374.3 163.5 L375.1 163.1 L375.9 162.7 L376.7 162.3 L377.5 161.8 L378.3 161.4 L379.1 161.0 L379.9 160.5 L380.7 160.1 L381.5 159.7 L382.3 159.2 L383.1 158.8 L383.9 158.3 L384.7 157.9 L385.6 157.4 L386.4 157.0 L387.2 156.5 L388.0 156.1 L388.8 155.7 L389.6 155.2 L390.4 154.8 L391.2 154.3 L392.0 153.9 L392.8 153.4 L393.6 153.0 L394.4 152.5 L395.2 152.1 L396.0 151.6 L396.8 151.2 L397.6 150.7 L398.4 150.3 L399.3 149.9 L400.1 149.4 L400.9 149.0 L401.7 148.5 L402.5 148.1 L403.3 147.7 L404.1 147.2 L404.9 146.8 L405.7 146.4 L406.5 146.0 L407.3 145.6 L408.1 145.1 L408.9 144.7 L409.7 144.3 L410.5 143.9 L411.3 143.5 L412.1 143.1 L413.0 142.7 L413.8 142.3 L414.6 141.9 L415.4 141.6 L416.2 141.2 L417.0 140.8 L417.8 140.4 L418.6 140.1 L419.4 139.7 L420.2 139.3 L421.0 138.9 L421.8 138.6 L422.6 138.2 L423.4 137.9 L424.2 137.5 L425.0 137.1 L425.8 136.8 L426.7 136.4 L427.5 136.0 L428.3 135.7 L429.1 135.3 L429.9 134.9 L430.7 134.6 L431.5 134.2 L432.3 133.8 L433.1 133.5 L433.9 133.1 L434.7 132.7 L435.5 132.3 L436.3 132.0 L437.1 131.6 L437.9 131.2 L438.7 130.8 L439.5 130.4 L440.3 130.0 L441.2 129.6 L442.0 129.3 L442.8 128.9 L443.6 128.5 L444.4 128.1 L445.2 127.7 L446.0 127.3 L446.8 126.9 L447.6 126.5 L448.4 126.1 L449.2 125.8 L450.0 125.4 L450.8 125.0 L451.6 124.6 L452.4 124.2 L453.2 123.8 L454.0 123.4 L454.9 123.0 L455.7 122.6 L456.5 122.2 L457.3 121.8 L458.1 121.4 L458.9 121.0 L459.7 120.6 L460.5 120.2 L461.3 119.8 L462.1 119.4 L462.9 119.0 L463.7 118.6 L464.5 118.2 L465.3 117.8 L466.1 117.4 L466.9 117.0 L467.7 116.6 L468.6 116.2 L469.4 115.8 L470.2 115.4 L471.0 115.0 L471.8 114.6 L472.6 114.2 L473.4 113.8 L474.2 113.4 L475.0 113.0 L475.8 112.6 L476.6 112.2 L477.4 111.8 L478.2 111.4 L479.0 111.0 L479.8 110.6 L480.6 110.2 L481.4 109.8 L482.3 109.4 L483.1 109.0 L483.9 108.6 L484.7 108.2 L485.5 107.8 L486.3 107.4 L487.1 107.0 L487.9 106.6 L488.7 106.2 L489.5 105.8 L490.3 105.4 L491.1 104.9 L491.9 104.5 L492.7 104.1 L493.5 103.7 L494.3 103.3 L495.1 102.9 L496.0 102.5 L496.8 102.1 L497.6 101.7 L498.4 101.3 L499.2 100.9 L500.0 100.5 L500.8 100.1 L501.6 99.7 L502.4 99.3 L503.2 98.9 L504.0 98.5 L504.8 98.1 L505.6 97.7 L506.4 97.3 L507.2 96.9 L508.0 96.4 L508.8 96.0 L509.6 95.6 L510.5 95.2 L511.3 94.8 L512.1 94.4 L512.9 94.0 L513.7 93.6 L514.5 93.2 L515.3 92.8 L516.1 92.4 L516.9 92.0 L517.7 91.6 L518.5 91.2 L519.3 90.8 L520.1 90.4 L520.9 90.0 L521.7 89.6 L522.5 89.2 L523.3 88.8 L524.2 88.4" fill="none" stroke="#37AD6B" stroke-width="2.5" stroke-linecap="round" stroke-dasharray="0 3.3"/>
<path d="M322.7 188.2 L323.5 187.6 L324.3 187.1 L325.1 186.5 L325.9 185.9 L326.7 185.3 L327.5 184.7 L328.3 184.1 L329.1 183.5 L330.0 182.9 L330.8 182.3 L331.6 181.7 L332.4 181.2 L333.2 180.6 L334.0 180.1 L334.8 179.5 L335.6 179.0 L336.4 178.5 L337.2 178.0 L338.0 177.6 L338.8 177.1 L339.6 176.7 L340.4 176.3 L341.2 176.0 L342.0 175.6 L342.8 175.3 L343.7 175.0 L344.5 174.7 L345.3 174.4 L346.1 174.0 L346.9 173.7 L347.7 173.4 L348.5 173.0 L349.3 172.6 L350.1 172.2 L350.9 171.7 L351.7 171.3 L352.5 170.7 L353.3 170.1 L354.1 169.4 L354.9 168.6 L355.7 167.8 L356.5 166.9 L357.4 166.0 L358.2 165.1 L359.0 164.1 L359.8 163.2 L360.6 162.3 L361.4 161.3 L362.2 160.3 L363.0 159.3 L363.8 158.4 L364.6 157.4 L365.4 156.4 L366.2 155.4 L367.0 154.4 L367.8 153.4 L368.6 152.4 L369.4 151.4 L370.2 150.5 L371.0 149.5 L371.9 148.6 L372.7 147.7 L373.5 146.8 L374.3 145.9 L375.1 145.0 L375.9 144.1 L376.7 143.3 L377.5 142.4 L378.3 141.5 L379.1 140.6 L379.9 139.8 L380.7 138.9 L381.5 138.1 L382.3 137.3 L383.1 136.4 L383.9 135.6 L384.7 134.8 L385.6 134.0 L386.4 133.2 L387.2 132.4 L388.0 131.6 L388.8 130.8 L389.6 130.1 L390.4 129.3 L391.2 128.6 L392.0 127.8 L392.8 127.1 L393.6 126.4 L394.4 125.7 L395.2 125.0 L396.0 124.3 L396.8 123.6 L397.6 122.9 L398.4 122.3 L399.3 121.6 L400.1 121.0 L400.9 120.3 L401.7 119.7 L402.5 119.0 L403.3 118.4 L404.1 117.8 L404.9 117.1 L405.7 116.5 L406.5 115.9 L407.3 115.2 L408.1 114.6 L408.9 114.0 L409.7 113.3 L410.5 112.7 L411.3 112.1 L412.1 111.4 L413.0 110.8 L413.8 110.2 L414.6 109.5 L415.4 108.9 L416.2 108.3 L417.0 107.6 L417.8 107.0 L418.6 106.4 L419.4 105.8 L420.2 105.1 L421.0 104.5 L421.8 103.9 L422.6 103.3 L423.4 102.7 L424.2 102.0 L425.0 101.4 L425.8 100.8 L426.7 100.2 L427.5 99.6 L428.3 99.0 L429.1 98.4 L429.9 97.8 L430.7 97.2 L431.5 96.6 L432.3 96.0 L433.1 95.4 L433.9 94.8 L434.7 94.2 L435.5 93.6 L436.3 93.0 L437.1 92.4 L437.9 91.8 L438.7 91.2 L439.5 90.6 L440.3 90.0 L441.2 89.5 L442.0 88.9 L442.8 88.3 L443.6 87.7 L444.4 87.1 L445.2 86.6 L446.0 86.0 L446.8 85.4 L447.6 84.8 L448.4 84.3 L449.2 83.7 L450.0 83.1 L450.8 82.5 L451.6 82.0 L452.4 81.4 L453.2 80.8 L454.0 80.2 L454.9 79.7 L455.7 79.1 L456.5 78.5 L457.3 77.9 L458.1 77.4 L458.9 76.8 L459.7 76.2 L460.5 75.6 L461.3 75.0 L462.1 74.5 L462.9 73.9 L463.7 73.3 L464.5 72.7 L465.3 72.1 L466.1 71.5 L466.9 71.0 L467.7 70.4 L468.6 69.8 L469.4 69.2 L470.2 68.6 L471.0 68.1 L471.8 67.5 L472.6 66.9 L473.4 66.3 L474.2 65.8 L475.0 65.2 L475.8 64.6 L476.6 64.0 L477.4 63.5 L478.2 62.9 L479.0 62.3 L479.8 61.7 L480.6 61.2 L481.4 60.6 L482.3 60.0 L483.1 59.5 L483.9 58.9 L484.7 58.3 L485.5 57.8 L486.3 57.2 L487.1 56.6 L487.9 56.1 L488.7 55.5 L489.5 54.9 L490.3 54.4 L491.1 53.8 L491.9 53.3 L492.7 52.7 L493.5 52.1 L494.3 51.6 L495.1 51.0 L496.0 50.4 L496.8 49.9 L497.6 49.3 L498.4 48.8 L499.2 48.2 L500.0 47.7 L500.8 47.1 L501.6 46.5 L502.4 46.0 L503.2 45.4 L504.0 44.9 L504.8 44.3 L505.6 43.7 L506.4 43.2 L507.2 42.6 L508.0 42.1 L508.8 41.5 L509.6 41.0 L510.5 40.4 L511.3 39.8 L512.1 39.3 L512.9 38.7 L513.7 38.2 L514.5 37.6 L515.3 37.1 L516.1 36.5 L516.9 35.9 L517.7 35.4 L518.5 34.8 L519.3 34.3 L520.1 33.7 L520.9 33.1 L521.7 32.6 L522.5 32.0 L523.3 31.5 L524.2 30.9" fill="none" stroke="#B177DE" stroke-width="1.5" stroke-linejoin="round"/>
<path d="M322.7 188.2 L323.5 187.6 L324.3 187.1 L325.1 186.5 L325.9 185.9 L326.7 185.3 L327.5 184.7 L328.3 184.1 L329.1 183.5 L330.0 182.9 L330.8 182.3 L331.6 181.7 L332.4 181.2 L333.2 180.6 L334.0 180.1 L334.8 179.5 L335.6 179.0 L336.4 178.5 L337.2 178.0 L338.0 177.6 L338.8 177.1 L339.6 176.7 L340.4 176.3 L341.2 176.0 L342.0 175.6 L342.8 175.3 L343.7 175.0 L344.5 174.7 L345.3 174.4 L346.1 174.0 L346.9 173.7 L347.7 173.4 L348.5 173.0 L349.3 172.6 L350.1 172.2 L350.9 171.7 L351.7 171.3 L352.5 170.7 L353.3 170.1 L354.1 169.4 L354.9 168.6 L355.7 167.8 L356.5 166.9 L357.4 166.0 L358.2 165.1 L359.0 164.1 L359.8 163.2 L360.6 162.3 L361.4 161.3 L362.2 160.3 L363.0 159.3 L363.8 158.4 L364.6 157.4 L365.4 156.4 L366.2 155.4 L367.0 154.4 L367.8 153.4 L368.6 152.4 L369.4 151.4 L370.2 150.5 L371.0 149.5 L371.9 148.6 L372.7 147.7 L373.5 146.8 L374.3 145.9 L375.1 145.0 L375.9 144.1 L376.7 143.3 L377.5 142.4 L378.3 141.5 L379.1 140.6 L379.9 139.8 L380.7 138.9 L381.5 138.1 L382.3 137.3 L383.1 136.4 L383.9 135.6 L384.7 134.8 L385.6 134.0 L386.4 133.2 L387.2 132.4 L388.0 131.6 L388.8 130.8 L389.6 130.1 L390.4 129.3 L391.2 128.6 L392.0 127.8 L392.8 127.1 L393.6 126.4 L394.4 125.7 L395.2 125.0 L396.0 124.3 L396.8 123.6 L397.6 122.9 L398.4 122.3 L399.3 121.6 L400.1 121.0 L400.9 120.3 L401.7 119.7 L402.5 119.0 L403.3 118.4 L404.1 117.8 L404.9 117.1 L405.7 116.5 L406.5 115.9 L407.3 115.2 L408.1 114.6 L408.9 114.0 L409.7 113.3 L410.5 112.7 L411.3 112.1 L412.1 111.4 L413.0 110.8 L413.8 110.2 L414.6 109.5 L415.4 108.9 L416.2 108.3 L417.0 107.6 L417.8 107.0 L418.6 106.4 L419.4 105.8 L420.2 105.1 L421.0 104.5 L421.8 103.9 L422.6 103.3 L423.4 102.7 L424.2 102.0 L425.0 101.4 L425.8 100.8 L426.7 100.2 L427.5 99.6 L428.3 99.0 L429.1 98.4 L429.9 97.8 L430.7 97.2 L431.5 96.6 L432.3 96.0 L433.1 95.4 L433.9 94.8 L434.7 94.2 L435.5 93.6 L436.3 93.0 L437.1 92.4 L437.9 91.8 L438.7 91.2 L439.5 90.6 L440.3 90.0 L441.2 89.5 L442.0 88.9 L442.8 88.3 L443.6 87.7 L444.4 87.1 L445.2 86.6 L446.0 86.0 L446.8 85.4 L447.6 84.8 L448.4 84.3 L449.2 83.7 L450.0 83.1 L450.8 82.5 L451.6 82.0 L452.4 81.4 L453.2 80.8 L454.0 80.2 L454.9 79.7 L455.7 79.1 L456.5 78.5 L457.3 77.9 L458.1 77.4 L458.9 76.8 L459.7 76.2 L460.5 75.6 L461.3 75.0 L462.1 74.5 L462.9 73.9 L463.7 73.3 L464.5 72.7 L465.3 72.1 L466.1 71.5 L466.9 71.0 L467.7 70.4 L468.6 69.8 L469.4 69.2 L470.2 68.6 L471.0 68.1 L471.8 67.5 L472.6 66.9 L473.4 66.3 L474.2 65.8 L475.0 65.2 L475.8 64.6 L476.6 64.0 L477.4 63.5 L478.2 62.9 L479.0 62.3 L479.8 61.7 L480.6 61.2 L481.4 60.6 L482.3 60.0 L483.1 59.5 L483.9 58.9 L484.7 58.3 L485.5 57.8 L486.3 57.2 L487.1 56.6 L487.9 56.1 L488.7 55.5 L489.5 54.9 L490.3 54.4 L491.1 53.8 L491.9 53.3 L492.7 52.7 L493.5 52.1 L494.3 51.6 L495.1 51.0 L496.0 50.4 L496.8 49.9 L497.6 49.3 L498.4 48.8 L499.2 48.2 L500.0 47.7 L500.8 47.1 L501.6 46.5 L502.4 46.0 L503.2 45.4 L504.0 44.9 L504.8 44.3 L505.6 43.7 L506.4 43.2 L507.2 42.6 L508.0 42.1 L508.8 41.5 L509.6 41.0 L510.5 40.4 L511.3 39.8 L512.1 39.3 L512.9 38.7 L513.7 38.2 L514.5 37.6 L515.3 37.1 L516.1 36.5 L516.9 35.9 L517.7 35.4 L518.5 34.8 L519.3 34.3 L520.1 33.7 L520.9 33.1 L521.7 32.6 L522.5 32.0 L523.3 31.5 L524.2 30.9" fill="none" stroke="#B177DE" stroke-width="2.5" stroke-linecap="round" stroke-dasharray="0 3.3"/>
<rect x="322.7" y="10.0" width="221.60" height="178.20" fill="none" stroke="#333333" stroke-width="1.3"/>
<path d="M322.70 188.20V191.70M322.70 10.00V13.00M362.99 188.20V191.70M362.99 10.00V13.00M403.28 188.20V191.70M403.28 10.00V13.00M443.57 188.20V191.70M443.57 10.00V13.00M483.86 188.20V191.70M483.86 10.00V13.00M524.15 188.20V191.70M524.15 10.00V13.00M342.85 188.20V190.40M342.85 10.00V11.90M383.14 188.20V190.40M383.14 10.00V11.90M423.43 188.20V190.40M423.43 10.00V11.90M463.72 188.20V190.40M463.72 10.00V11.90M504.01 188.20V190.40M504.01 10.00V11.90M544.30 188.20V190.40M544.30 10.00V11.90M322.70 188.20H319.20M544.30 188.20H541.30M322.70 158.50H319.20M544.30 158.50H541.30M322.70 128.80H319.20M544.30 128.80H541.30M322.70 99.10H319.20M544.30 99.10H541.30M322.70 69.40H319.20M544.30 69.40H541.30M322.70 39.70H319.20M544.30 39.70H541.30M322.70 10.00H319.20M544.30 10.00H541.30M322.70 173.35H320.50M544.30 173.35H542.40M322.70 143.65H320.50M544.30 143.65H542.40M322.70 113.95H320.50M544.30 113.95H542.40M322.70 84.25H320.50M544.30 84.25H542.40M322.70 54.55H320.50M544.30 54.55H542.40M322.70 24.85H320.50M544.30 24.85H542.40" stroke="#333333" stroke-width="1.2" fill="none"/>
<text x="322.70" y="203.3" font-size="11.5" text-anchor="middle">0</text>
<text x="362.99" y="203.3" font-size="11.5" text-anchor="middle">5</text>
<text x="403.28" y="203.3" font-size="11.5" text-anchor="middle">10</text>
<text x="443.57" y="203.3" font-size="11.5" text-anchor="middle">15</text>
<text x="483.86" y="203.3" font-size="11.5" text-anchor="middle">20</text>
<text x="524.15" y="203.3" font-size="11.5" text-anchor="middle">25</text>
<text x="41" y="192.30" font-size="11.5" text-anchor="end" transform="translate(276.10,0)">0.0</text>
<text x="41" y="162.60" font-size="11.5" text-anchor="end" transform="translate(276.10,0)">0.5</text>
<text x="41" y="132.90" font-size="11.5" text-anchor="end" transform="translate(276.10,0)">1.0</text>
<text x="41" y="103.20" font-size="11.5" text-anchor="end" transform="translate(276.10,0)">1.5</text>
<text x="41" y="73.50" font-size="11.5" text-anchor="end" transform="translate(276.10,0)">2.0</text>
<text x="41" y="43.80" font-size="11.5" text-anchor="end" transform="translate(276.10,0)">2.5</text>
<text x="41" y="14.10" font-size="11.5" text-anchor="end" transform="translate(276.10,0)">3.0</text>
<rect x="326.4" y="15.2" width="116.80" height="64.40" fill="#fff" stroke="#7a7a7a" stroke-width="1"/>
<path d="M328.3 22.70H350.7" stroke="#515151" stroke-width="1.2"/>
<circle cx="339.50" cy="22.70" r="1.2" fill="#515151"/>
<text x="354.3" y="26.30" font-size="10">NR-unfilled</text>
<path d="M328.3 35.13H350.7" stroke="#F14040" stroke-width="1.2"/>
<circle cx="339.50" cy="35.13" r="1.2" fill="#F14040"/>
<text x="354.3" y="38.73" font-size="10">NR/3-CNT</text>
<path d="M328.3 47.56H350.7" stroke="#1A6FDF" stroke-width="1.2"/>
<circle cx="339.50" cy="47.56" r="1.2" fill="#1A6FDF"/>
<text x="354.3" y="51.16" font-size="10">NR/17-mDE/3-CNT</text>
<path d="M328.3 59.99H350.7" stroke="#37AD6B" stroke-width="1.2"/>
<circle cx="339.50" cy="59.99" r="1.2" fill="#37AD6B"/>
<text x="354.3" y="63.59" font-size="10">NR/37-mDE/3-CNT</text>
<path d="M328.3 72.42H350.7" stroke="#B177DE" stroke-width="1.2"/>
<circle cx="339.50" cy="72.42" r="1.2" fill="#B177DE"/>
<text x="354.3" y="76.02" font-size="10">NR/57-mDE/3-CNT</text>
<text x="483.8" y="36.5" font-size="18.4" transform="translate(483.8,0) scale(0.95,1) translate(-483.8,0)">(b)</text>
<text x="433.50" y="223.6" font-size="14.9" text-anchor="middle">Compressive strain (%)</text>
<text x="0" y="0" font-size="14.9" text-anchor="middle" transform="translate(292.80,99.2) rotate(-90)">Compressive stress (MPa)</text>
<path d="M62.34 409.13 L65.50 408.60 L68.67 408.05 L71.84 407.48 L75.00 406.89 L78.17 406.28 L81.34 405.66 L84.51 405.01 L87.67 404.34 L90.84 403.65 L94.01 402.94 L97.17 402.20 L100.34 401.44 L103.51 400.66 L106.68 399.84 L109.84 399.01 L113.01 398.14 L116.18 397.25 L119.34 396.33 L122.51 395.37 L125.68 394.39 L128.85 393.37 L132.01 392.32 L135.18 391.24 L138.35 390.12 L141.51 388.96 L144.68 387.77 L147.85 386.53 L151.02 385.26 L154.18 383.94 L157.35 382.59 L160.52 381.18 L163.68 379.73 L166.85 378.24 L170.02 376.69 L173.19 375.09 L176.35 373.45 L179.52 371.74 L182.69 369.98 L185.85 368.17 L189.02 366.29 L192.19 364.35 L195.36 362.35 L198.52 360.29 L201.69 358.15 L204.86 355.95 L208.02 353.67 L211.19 351.32 L214.36 348.89 L217.53 346.39 L220.69 343.80 L223.86 341.12 L227.03 338.36 L230.19 335.51 L233.36 332.56 L236.53 329.52 L239.70 326.38 L242.86 323.13 L246.03 319.78 L249.20 316.32 L252.36 312.74" fill="none" stroke="#F14040" stroke-width="1.3"/>
<circle cx="62.34" cy="409.31" r="2.4" fill="#F14040"/>
<circle cx="125.68" cy="395.63" r="2.4" fill="#F14040"/>
<path d="M189.02 368.36V371.94M186.82 368.36H191.22M186.82 371.94H191.22" stroke="#F14040" stroke-width="1.1"/>
<circle cx="189.02" cy="370.15" r="2.4" fill="#F14040"/>
<path d="M252.36 308.11V317.05M250.16 308.11H254.56M250.16 317.05H254.56" stroke="#F14040" stroke-width="1.1"/>
<circle cx="252.36" cy="312.58" r="2.4" fill="#F14040"/>
<rect x="123.78" y="398.83" width="3.8" height="3.8" fill="#515151"/>
<rect x="46.5" y="246.6" width="221.70" height="178.80" fill="none" stroke="#333333" stroke-width="1.3"/>
<path d="M62.34 425.40V428.90M62.34 246.60V249.60M94.01 425.40V428.90M94.01 246.60V249.60M125.68 425.40V428.90M125.68 246.60V249.60M157.35 425.40V428.90M157.35 246.60V249.60M189.02 425.40V428.90M189.02 246.60V249.60M220.69 425.40V428.90M220.69 246.60V249.60M252.36 425.40V428.90M252.36 246.60V249.60M46.50 425.40V427.60M46.50 246.60V248.50M78.17 425.40V427.60M78.17 246.60V248.50M109.84 425.40V427.60M109.84 246.60V248.50M141.51 425.40V427.60M141.51 246.60V248.50M173.19 425.40V427.60M173.19 246.60V248.50M204.86 425.40V427.60M204.86 246.60V248.50M236.53 425.40V427.60M236.53 246.60V248.50M268.20 425.40V427.60M268.20 246.60V248.50M46.50 425.40H43.00M268.20 425.40H265.20M46.50 380.70H43.00M268.20 380.70H265.20M46.50 336.00H43.00M268.20 336.00H265.20M46.50 291.30H43.00M268.20 291.30H265.20M46.50 246.60H43.00M268.20 246.60H265.20M46.50 403.05H44.30M268.20 403.05H266.30M46.50 358.35H44.30M268.20 358.35H266.30M46.50 313.65H44.30M268.20 313.65H266.30M46.50 268.95H44.30M268.20 268.95H266.30" stroke="#333333" stroke-width="1.2" fill="none"/>
<text x="62.34" y="440" font-size="11.5" text-anchor="middle">0</text>
<text x="94.01" y="440" font-size="11.5" text-anchor="middle">10</text>
<text x="125.68" y="440" font-size="11.5" text-anchor="middle">20</text>
<text x="157.35" y="440" font-size="11.5" text-anchor="middle">30</text>
<text x="189.02" y="440" font-size="11.5" text-anchor="middle">40</text>
<text x="220.69" y="440" font-size="11.5" text-anchor="middle">50</text>
<text x="252.36" y="440" font-size="11.5" text-anchor="middle">60</text>
<text x="40.70" y="428.70" font-size="11.5" text-anchor="end">0</text>
<text x="40.70" y="384.00" font-size="11.5" text-anchor="end">5</text>
<text x="40.70" y="339.30" font-size="11.5" text-anchor="end">10</text>
<text x="40.70" y="294.60" font-size="11.5" text-anchor="end">15</text>
<text x="40.70" y="249.90" font-size="11.5" text-anchor="end">20</text>
<rect x="49.4" y="254.8" width="101.40" height="25.30" fill="#fff" stroke="#7a7a7a" stroke-width="1"/>
<path d="M51.5 260.50H74.5" stroke="#515151" stroke-width="1.2"/>
<rect x="61.20" y="258.70" width="3.6" height="3.6" fill="#515151"/>
<text x="77.7" y="264.10" font-size="10">NR/20-DE</text>
<path d="M51.5 272.90H74.5" stroke="#F14040" stroke-width="1.2"/>
<circle cx="63.00" cy="272.90" r="2.1" fill="#F14040"/>
<text x="77.7" y="276.50" font-size="10">NR/(0-60)-mDE</text>
<text x="52.3" y="325.3" font-size="10">y = 1.784e<tspan font-size="10" dy="-3.9">0.0321x</tspan></text>
<text x="226.3" y="271.8" font-size="18.4" transform="translate(226.3,0) scale(0.95,1) translate(-226.3,0)">(c)</text>
<text x="157.35" y="459.4" font-size="14.9" text-anchor="middle">Amounts of DE/mDE-clay (phr)</text>
<text x="0" y="0" font-size="14.9" text-anchor="middle" transform="translate(23.20,335.8) rotate(-90)">Young's Modulus (MPa)</text>
<path d="M338.81 409.22 L341.98 407.99 L345.14 406.74 L348.30 405.46 L351.47 404.14 L354.63 402.80 L357.79 401.44 L360.95 400.04 L364.12 398.61 L367.28 397.16 L370.44 395.67 L373.61 394.16 L376.77 392.62 L379.93 391.05 L383.09 389.46 L386.26 387.83 L389.42 386.17 L392.58 384.49 L395.75 382.78 L398.91 381.04 L402.07 379.27 L405.23 377.47 L408.40 375.65 L411.56 373.79 L414.72 371.91 L417.89 369.99 L421.05 368.05 L424.21 366.08 L427.37 364.09 L430.54 362.06 L433.70 360.00 L436.86 357.92 L440.03 355.81 L443.19 353.67 L446.35 351.50 L449.51 349.30 L452.68 347.07 L455.84 344.82 L459.00 342.53 L462.17 340.22 L465.33 337.88 L468.49 335.51 L471.65 333.11 L474.82 330.68 L477.98 328.23 L481.14 325.74 L484.31 323.23 L487.47 320.69 L490.63 318.12 L493.79 315.52 L496.96 312.89 L500.12 310.23 L503.28 307.55 L506.45 304.84 L509.61 302.09 L512.77 299.32 L515.93 296.52 L519.10 293.70 L522.26 290.84 L525.42 287.96 L528.59 285.04" fill="none" stroke="#F14040" stroke-width="1.3"/>
<circle cx="338.81" cy="409.22" r="2.4" fill="#F14040"/>
<path d="M402.07 377.48V381.06M399.87 377.48H404.27M399.87 381.06H404.27" stroke="#F14040" stroke-width="1.1"/>
<circle cx="402.07" cy="379.27" r="2.4" fill="#F14040"/>
<path d="M465.33 346.01V353.16M463.13 346.01H467.53M463.13 353.16H467.53" stroke="#F14040" stroke-width="1.1"/>
<circle cx="465.33" cy="349.59" r="2.4" fill="#F14040"/>
<path d="M528.59 279.68V290.41M526.39 279.68H530.79M526.39 290.41H530.79" stroke="#F14040" stroke-width="1.1"/>
<circle cx="528.59" cy="285.04" r="2.4" fill="#F14040"/>
<rect x="346.40" y="396.68" width="3.8" height="3.8" fill="#515151"/>
<rect x="323.0" y="246.6" width="221.40" height="178.80" fill="none" stroke="#333333" stroke-width="1.3"/>
<path d="M338.81 425.40V428.90M338.81 246.60V249.60M370.44 425.40V428.90M370.44 246.60V249.60M402.07 425.40V428.90M402.07 246.60V249.60M433.70 425.40V428.90M433.70 246.60V249.60M465.33 425.40V428.90M465.33 246.60V249.60M496.96 425.40V428.90M496.96 246.60V249.60M528.59 425.40V428.90M528.59 246.60V249.60M323.00 425.40V427.60M323.00 246.60V248.50M354.63 425.40V427.60M354.63 246.60V248.50M386.26 425.40V427.60M386.26 246.60V248.50M417.89 425.40V427.60M417.89 246.60V248.50M449.51 425.40V427.60M449.51 246.60V248.50M481.14 425.40V427.60M481.14 246.60V248.50M512.77 425.40V427.60M512.77 246.60V248.50M544.40 425.40V427.60M544.40 246.60V248.50M323.00 425.40H319.50M544.40 425.40H541.40M323.00 380.70H319.50M544.40 380.70H541.40M323.00 336.00H319.50M544.40 336.00H541.40M323.00 291.30H319.50M544.40 291.30H541.40M323.00 246.60H319.50M544.40 246.60H541.40M323.00 403.05H320.80M544.40 403.05H542.50M323.00 358.35H320.80M544.40 358.35H542.50M323.00 313.65H320.80M544.40 313.65H542.50M323.00 268.95H320.80M544.40 268.95H542.50" stroke="#333333" stroke-width="1.2" fill="none"/>
<text x="338.81" y="440" font-size="11.5" text-anchor="middle">0</text>
<text x="370.44" y="440" font-size="11.5" text-anchor="middle">10</text>
<text x="402.07" y="440" font-size="11.5" text-anchor="middle">20</text>
<text x="433.70" y="440" font-size="11.5" text-anchor="middle">30</text>
<text x="465.33" y="440" font-size="11.5" text-anchor="middle">40</text>
<text x="496.96" y="440" font-size="11.5" text-anchor="middle">50</text>
<text x="528.59" y="440" font-size="11.5" text-anchor="middle">60</text>
<text x="317.20" y="428.70" font-size="11.5" text-anchor="end">0</text>
<text x="317.20" y="384.00" font-size="11.5" text-anchor="end">5</text>
<text x="317.20" y="339.30" font-size="11.5" text-anchor="end">10</text>
<text x="317.20" y="294.60" font-size="11.5" text-anchor="end">15</text>
<text x="317.20" y="249.90" font-size="11.5" text-anchor="end">20</text>
<rect x="326.4" y="255.2" width="148.60" height="24.80" fill="#fff" stroke="#7a7a7a" stroke-width="1"/>
<path d="M329.3 260.50H351.4" stroke="#515151" stroke-width="1.2"/>
<rect x="338.55" y="258.70" width="3.6" height="3.6" fill="#515151"/>
<text x="354.3" y="264.10" font-size="10">NR/3-CNT</text>
<path d="M329.3 272.90H351.4" stroke="#F14040" stroke-width="1.2"/>
<circle cx="340.35" cy="272.90" r="2.1" fill="#F14040"/>
<text x="354.3" y="276.50" font-size="10">NR/(0-57)-mDE/(0-3)-CNT</text>
<text x="328.2" y="325.3" font-size="10">y = 1.784e<tspan font-size="10" dy="-3.9">0.0382x</tspan></text>
<text x="497.4" y="273" font-size="18.4" transform="translate(497.4,0) scale(0.95,1) translate(-497.4,0)">(d)</text>
<text x="433.70" y="459.4" font-size="14.9" text-anchor="middle">Amounts of hybrid filler (phr)</text>
<text x="0" y="0" font-size="14.9" text-anchor="middle" transform="translate(299.70,335.8) rotate(-90)">Young's Modulus (MPa)</text>
</svg></body></html>
